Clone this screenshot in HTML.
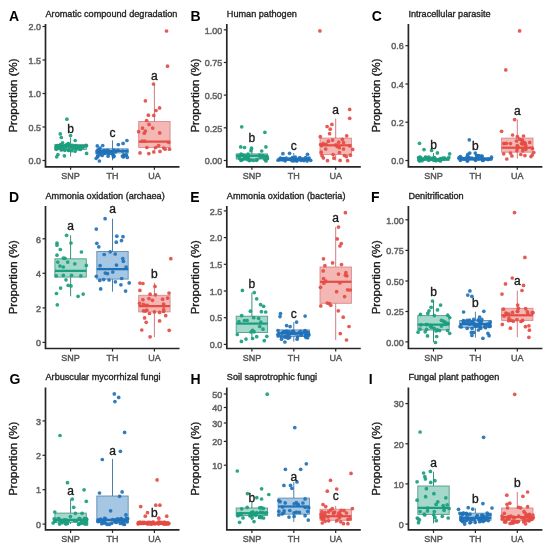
<!DOCTYPE html>
<html><head><meta charset="utf-8"><style>
html,body{margin:0;padding:0;background:#fff;}
svg{display:block;filter:blur(0.55px);}
text{font-family:"Liberation Sans", sans-serif;}
</style></head><body>
<svg width="550" height="548" viewBox="0 0 550 548">
<rect width="550" height="548" fill="#fff"/>
<g><text transform="translate(9.05,20.80) scale(1.0,1.06)" font-weight="bold" font-size="14" fill="#000">A</text>
<text x="45.50" y="17.20" font-size="9.15" fill="#262626" stroke="#262626" stroke-width="0.35">Aromatic compound degradation</text>
<text transform="translate(17.4,95.50) rotate(-90)" text-anchor="middle" font-size="11.5" fill="#1c1c1c" stroke="#1c1c1c" stroke-width="0.35">Proportion (%)</text>
<line x1="70.6" y1="137.4" x2="70.6" y2="144.4" stroke="#3c8f79" stroke-width="1.0"/>
<line x1="70.6" y1="149.5" x2="70.6" y2="156.5" stroke="#3c8f79" stroke-width="1.0"/>
<rect x="54.9" y="144.4" width="31.4" height="5.1" fill="#1b9e7e" fill-opacity="0.4" stroke="#3c8f79" stroke-width="0.9" stroke-opacity="0.85"/>
<line x1="54.9" y1="146.2" x2="86.3" y2="146.2" stroke="#1b9e7e" stroke-width="2.2"/>
<circle cx="66.9" cy="119.2" r="1.85" fill="#1b9e7e" fill-opacity="0.92"/>
<circle cx="70.5" cy="135.5" r="1.85" fill="#1b9e7e" fill-opacity="0.92"/>
<circle cx="60.3" cy="133.9" r="1.85" fill="#1b9e7e" fill-opacity="0.92"/>
<circle cx="61.3" cy="137.5" r="1.85" fill="#1b9e7e" fill-opacity="0.92"/>
<circle cx="75.2" cy="140.5" r="1.85" fill="#1b9e7e" fill-opacity="0.92"/>
<circle cx="57.9" cy="154.5" r="1.85" fill="#1b9e7e" fill-opacity="0.92"/>
<circle cx="64.4" cy="155.8" r="1.85" fill="#1b9e7e" fill-opacity="0.92"/>
<circle cx="86.6" cy="153.4" r="1.85" fill="#1b9e7e" fill-opacity="0.92"/>
<circle cx="56.7" cy="156.8" r="1.85" fill="#1b9e7e" fill-opacity="0.92"/>
<circle cx="65.4" cy="146.0" r="1.85" fill="#1b9e7e" fill-opacity="0.92"/>
<circle cx="75.8" cy="145.5" r="1.85" fill="#1b9e7e" fill-opacity="0.92"/>
<circle cx="72.1" cy="147.4" r="1.85" fill="#1b9e7e" fill-opacity="0.92"/>
<circle cx="56.9" cy="148.3" r="1.85" fill="#1b9e7e" fill-opacity="0.92"/>
<circle cx="56.2" cy="147.8" r="1.85" fill="#1b9e7e" fill-opacity="0.92"/>
<circle cx="57.2" cy="145.6" r="1.85" fill="#1b9e7e" fill-opacity="0.92"/>
<circle cx="68.6" cy="150.4" r="1.85" fill="#1b9e7e" fill-opacity="0.92"/>
<circle cx="59.0" cy="146.5" r="1.85" fill="#1b9e7e" fill-opacity="0.92"/>
<circle cx="75.1" cy="151.2" r="1.85" fill="#1b9e7e" fill-opacity="0.92"/>
<circle cx="73.5" cy="147.6" r="1.85" fill="#1b9e7e" fill-opacity="0.92"/>
<circle cx="86.2" cy="145.3" r="1.85" fill="#1b9e7e" fill-opacity="0.92"/>
<circle cx="82.5" cy="146.9" r="1.85" fill="#1b9e7e" fill-opacity="0.92"/>
<circle cx="59.6" cy="145.8" r="1.85" fill="#1b9e7e" fill-opacity="0.92"/>
<circle cx="64.9" cy="150.3" r="1.85" fill="#1b9e7e" fill-opacity="0.92"/>
<circle cx="60.8" cy="148.8" r="1.85" fill="#1b9e7e" fill-opacity="0.92"/>
<circle cx="75.4" cy="147.4" r="1.85" fill="#1b9e7e" fill-opacity="0.92"/>
<circle cx="72.5" cy="145.4" r="1.85" fill="#1b9e7e" fill-opacity="0.92"/>
<circle cx="56.9" cy="146.3" r="1.85" fill="#1b9e7e" fill-opacity="0.92"/>
<circle cx="76.8" cy="147.8" r="1.85" fill="#1b9e7e" fill-opacity="0.92"/>
<circle cx="65.1" cy="148.8" r="1.85" fill="#1b9e7e" fill-opacity="0.92"/>
<circle cx="69.5" cy="146.9" r="1.85" fill="#1b9e7e" fill-opacity="0.92"/>
<circle cx="80.4" cy="149.5" r="1.85" fill="#1b9e7e" fill-opacity="0.92"/>
<circle cx="62.8" cy="148.7" r="1.85" fill="#1b9e7e" fill-opacity="0.92"/>
<circle cx="71.8" cy="150.7" r="1.85" fill="#1b9e7e" fill-opacity="0.92"/>
<circle cx="78.3" cy="146.9" r="1.85" fill="#1b9e7e" fill-opacity="0.92"/>
<circle cx="86.4" cy="145.8" r="1.85" fill="#1b9e7e" fill-opacity="0.92"/>
<circle cx="68.4" cy="149.9" r="1.85" fill="#1b9e7e" fill-opacity="0.92"/>
<circle cx="59.9" cy="148.2" r="1.85" fill="#1b9e7e" fill-opacity="0.92"/>
<circle cx="56.3" cy="149.3" r="1.85" fill="#1b9e7e" fill-opacity="0.92"/>
<circle cx="79.5" cy="148.7" r="1.85" fill="#1b9e7e" fill-opacity="0.92"/>
<circle cx="83.0" cy="147.0" r="1.85" fill="#1b9e7e" fill-opacity="0.92"/>
<circle cx="77.2" cy="148.9" r="1.85" fill="#1b9e7e" fill-opacity="0.92"/>
<circle cx="60.6" cy="144.6" r="1.85" fill="#1b9e7e" fill-opacity="0.92"/>
<circle cx="62.7" cy="149.4" r="1.85" fill="#1b9e7e" fill-opacity="0.92"/>
<circle cx="59.8" cy="146.6" r="1.85" fill="#1b9e7e" fill-opacity="0.92"/>
<circle cx="56.5" cy="147.0" r="1.85" fill="#1b9e7e" fill-opacity="0.92"/>
<circle cx="61.2" cy="149.9" r="1.85" fill="#1b9e7e" fill-opacity="0.92"/>
<circle cx="62.6" cy="142.8" r="1.85" fill="#1b9e7e" fill-opacity="0.92"/>
<circle cx="71.4" cy="145.7" r="1.85" fill="#1b9e7e" fill-opacity="0.92"/>
<circle cx="66.3" cy="144.8" r="1.85" fill="#1b9e7e" fill-opacity="0.92"/>
<circle cx="68.4" cy="143.5" r="1.85" fill="#1b9e7e" fill-opacity="0.92"/>
<circle cx="66.8" cy="146.1" r="1.85" fill="#1b9e7e" fill-opacity="0.92"/>
<circle cx="67.8" cy="144.0" r="1.85" fill="#1b9e7e" fill-opacity="0.92"/>
<circle cx="71.5" cy="146.5" r="1.85" fill="#1b9e7e" fill-opacity="0.92"/>
<text x="70.62" y="132.55" text-anchor="middle" font-size="12" fill="#1a1a1a" stroke="#1a1a1a" stroke-width="0.35">b</text>
<line x1="112.5" y1="140.3" x2="112.5" y2="148.8" stroke="#4f80a8" stroke-width="1.0"/>
<line x1="112.5" y1="153.0" x2="112.5" y2="160.3" stroke="#4f80a8" stroke-width="1.0"/>
<rect x="96.8" y="148.8" width="31.4" height="4.2" fill="#1f72b8" fill-opacity="0.4" stroke="#4f80a8" stroke-width="0.9" stroke-opacity="0.85"/>
<line x1="96.8" y1="151.0" x2="128.2" y2="151.0" stroke="#1f72b8" stroke-width="2.2"/>
<circle cx="97.3" cy="145.9" r="1.85" fill="#1f72b8" fill-opacity="0.92"/>
<circle cx="102.7" cy="145.5" r="1.85" fill="#1f72b8" fill-opacity="0.92"/>
<circle cx="118.3" cy="144.6" r="1.85" fill="#1f72b8" fill-opacity="0.92"/>
<circle cx="123.1" cy="143.4" r="1.85" fill="#1f72b8" fill-opacity="0.92"/>
<circle cx="126.9" cy="140.5" r="1.85" fill="#1f72b8" fill-opacity="0.92"/>
<circle cx="96.2" cy="158.3" r="1.85" fill="#1f72b8" fill-opacity="0.92"/>
<circle cx="99.4" cy="161.0" r="1.85" fill="#1f72b8" fill-opacity="0.92"/>
<circle cx="127.3" cy="157.4" r="1.85" fill="#1f72b8" fill-opacity="0.92"/>
<circle cx="99.5" cy="153.1" r="1.85" fill="#1f72b8" fill-opacity="0.92"/>
<circle cx="114.0" cy="156.2" r="1.85" fill="#1f72b8" fill-opacity="0.92"/>
<circle cx="122.4" cy="156.0" r="1.85" fill="#1f72b8" fill-opacity="0.92"/>
<circle cx="105.6" cy="152.9" r="1.85" fill="#1f72b8" fill-opacity="0.92"/>
<circle cx="108.1" cy="156.2" r="1.85" fill="#1f72b8" fill-opacity="0.92"/>
<circle cx="126.7" cy="151.1" r="1.85" fill="#1f72b8" fill-opacity="0.92"/>
<circle cx="102.5" cy="151.6" r="1.85" fill="#1f72b8" fill-opacity="0.92"/>
<circle cx="104.2" cy="153.4" r="1.85" fill="#1f72b8" fill-opacity="0.92"/>
<circle cx="115.3" cy="151.8" r="1.85" fill="#1f72b8" fill-opacity="0.92"/>
<circle cx="97.1" cy="152.9" r="1.85" fill="#1f72b8" fill-opacity="0.92"/>
<circle cx="108.4" cy="154.0" r="1.85" fill="#1f72b8" fill-opacity="0.92"/>
<circle cx="126.5" cy="154.8" r="1.85" fill="#1f72b8" fill-opacity="0.92"/>
<circle cx="113.0" cy="154.3" r="1.85" fill="#1f72b8" fill-opacity="0.92"/>
<circle cx="118.0" cy="150.4" r="1.85" fill="#1f72b8" fill-opacity="0.92"/>
<circle cx="124.9" cy="155.5" r="1.85" fill="#1f72b8" fill-opacity="0.92"/>
<circle cx="124.1" cy="155.6" r="1.85" fill="#1f72b8" fill-opacity="0.92"/>
<circle cx="109.2" cy="152.8" r="1.85" fill="#1f72b8" fill-opacity="0.92"/>
<circle cx="100.2" cy="154.4" r="1.85" fill="#1f72b8" fill-opacity="0.92"/>
<circle cx="98.9" cy="150.5" r="1.85" fill="#1f72b8" fill-opacity="0.92"/>
<circle cx="103.5" cy="151.1" r="1.85" fill="#1f72b8" fill-opacity="0.92"/>
<circle cx="107.5" cy="150.4" r="1.85" fill="#1f72b8" fill-opacity="0.92"/>
<circle cx="97.0" cy="151.1" r="1.85" fill="#1f72b8" fill-opacity="0.92"/>
<circle cx="100.1" cy="152.5" r="1.85" fill="#1f72b8" fill-opacity="0.92"/>
<circle cx="97.8" cy="156.1" r="1.85" fill="#1f72b8" fill-opacity="0.92"/>
<circle cx="116.0" cy="151.0" r="1.85" fill="#1f72b8" fill-opacity="0.92"/>
<circle cx="104.8" cy="152.4" r="1.85" fill="#1f72b8" fill-opacity="0.92"/>
<circle cx="108.3" cy="150.9" r="1.85" fill="#1f72b8" fill-opacity="0.92"/>
<circle cx="123.3" cy="157.0" r="1.85" fill="#1f72b8" fill-opacity="0.92"/>
<circle cx="111.4" cy="153.4" r="1.85" fill="#1f72b8" fill-opacity="0.92"/>
<circle cx="99.7" cy="150.7" r="1.85" fill="#1f72b8" fill-opacity="0.92"/>
<circle cx="107.6" cy="151.9" r="1.85" fill="#1f72b8" fill-opacity="0.92"/>
<circle cx="122.7" cy="151.1" r="1.85" fill="#1f72b8" fill-opacity="0.92"/>
<circle cx="97.7" cy="156.7" r="1.85" fill="#1f72b8" fill-opacity="0.92"/>
<circle cx="113.4" cy="151.0" r="1.85" fill="#1f72b8" fill-opacity="0.92"/>
<circle cx="113.8" cy="150.2" r="1.85" fill="#1f72b8" fill-opacity="0.92"/>
<circle cx="113.4" cy="156.8" r="1.85" fill="#1f72b8" fill-opacity="0.92"/>
<circle cx="123.8" cy="154.9" r="1.85" fill="#1f72b8" fill-opacity="0.92"/>
<circle cx="105.1" cy="152.6" r="1.85" fill="#1f72b8" fill-opacity="0.92"/>
<circle cx="102.2" cy="155.4" r="1.85" fill="#1f72b8" fill-opacity="0.92"/>
<circle cx="113.5" cy="155.5" r="1.85" fill="#1f72b8" fill-opacity="0.92"/>
<circle cx="100.0" cy="148.1" r="1.85" fill="#1f72b8" fill-opacity="0.92"/>
<circle cx="104.3" cy="151.9" r="1.85" fill="#1f72b8" fill-opacity="0.92"/>
<circle cx="104.7" cy="151.0" r="1.85" fill="#1f72b8" fill-opacity="0.92"/>
<circle cx="104.4" cy="150.7" r="1.85" fill="#1f72b8" fill-opacity="0.92"/>
<circle cx="99.0" cy="149.6" r="1.85" fill="#1f72b8" fill-opacity="0.92"/>
<text x="112.50" y="136.55" text-anchor="middle" font-size="12" fill="#1a1a1a" stroke="#1a1a1a" stroke-width="0.35">c</text>
<line x1="154.4" y1="84.0" x2="154.4" y2="121.5" stroke="#d27a82" stroke-width="1.0"/>
<line x1="154.4" y1="147.5" x2="154.4" y2="150.0" stroke="#d27a82" stroke-width="1.0"/>
<rect x="138.7" y="121.5" width="31.4" height="26.0" fill="#e44c44" fill-opacity="0.4" stroke="#d27a82" stroke-width="0.9" stroke-opacity="0.85"/>
<line x1="138.7" y1="141.6" x2="170.1" y2="141.6" stroke="#e44c44" stroke-width="2.2"/>
<circle cx="166.5" cy="31.0" r="1.85" fill="#e44c44" fill-opacity="0.92"/>
<circle cx="167.5" cy="66.2" r="1.85" fill="#e44c44" fill-opacity="0.92"/>
<circle cx="153.5" cy="84.0" r="1.85" fill="#e44c44" fill-opacity="0.92"/>
<circle cx="145.4" cy="100.8" r="1.85" fill="#e44c44" fill-opacity="0.92"/>
<circle cx="159.6" cy="107.9" r="1.85" fill="#e44c44" fill-opacity="0.92"/>
<circle cx="156.0" cy="110.5" r="1.85" fill="#e44c44" fill-opacity="0.92"/>
<circle cx="148.4" cy="115.2" r="1.85" fill="#e44c44" fill-opacity="0.92"/>
<circle cx="153.8" cy="115.4" r="1.85" fill="#e44c44" fill-opacity="0.92"/>
<circle cx="146.6" cy="120.5" r="1.85" fill="#e44c44" fill-opacity="0.92"/>
<circle cx="149.1" cy="124.4" r="1.85" fill="#e44c44" fill-opacity="0.92"/>
<circle cx="142.5" cy="128.1" r="1.85" fill="#e44c44" fill-opacity="0.92"/>
<circle cx="152.7" cy="128.1" r="1.85" fill="#e44c44" fill-opacity="0.92"/>
<circle cx="138.6" cy="131.7" r="1.85" fill="#e44c44" fill-opacity="0.92"/>
<circle cx="145.4" cy="131.0" r="1.85" fill="#e44c44" fill-opacity="0.92"/>
<circle cx="144.3" cy="133.2" r="1.85" fill="#e44c44" fill-opacity="0.92"/>
<circle cx="159.7" cy="132.9" r="1.85" fill="#e44c44" fill-opacity="0.92"/>
<circle cx="142.2" cy="141.2" r="1.85" fill="#e44c44" fill-opacity="0.92"/>
<circle cx="144.7" cy="141.2" r="1.85" fill="#e44c44" fill-opacity="0.92"/>
<circle cx="168.8" cy="142.4" r="1.85" fill="#e44c44" fill-opacity="0.92"/>
<circle cx="146.9" cy="147.5" r="1.85" fill="#e44c44" fill-opacity="0.92"/>
<circle cx="155.7" cy="147.5" r="1.85" fill="#e44c44" fill-opacity="0.92"/>
<circle cx="158.6" cy="145.6" r="1.85" fill="#e44c44" fill-opacity="0.92"/>
<circle cx="163.7" cy="148.1" r="1.85" fill="#e44c44" fill-opacity="0.92"/>
<circle cx="165.1" cy="149.2" r="1.85" fill="#e44c44" fill-opacity="0.92"/>
<circle cx="169.5" cy="149.2" r="1.85" fill="#e44c44" fill-opacity="0.92"/>
<circle cx="140.0" cy="152.9" r="1.85" fill="#e44c44" fill-opacity="0.92"/>
<circle cx="148.8" cy="153.6" r="1.85" fill="#e44c44" fill-opacity="0.92"/>
<circle cx="153.8" cy="151.9" r="1.85" fill="#e44c44" fill-opacity="0.92"/>
<circle cx="160.0" cy="151.4" r="1.85" fill="#e44c44" fill-opacity="0.92"/>
<text x="154.38" y="79.75" text-anchor="middle" font-size="12" fill="#1a1a1a" stroke="#1a1a1a" stroke-width="0.35">a</text>
<path d="M45.5,24.0 V166.8 H179.5" fill="none" stroke="#262626" stroke-width="1.7"/>
<line x1="42.5" y1="160.5" x2="45.5" y2="160.5" stroke="#262626" stroke-width="1.2"/>
<text transform="translate(40.90,164.20) scale(1.0,1.1)" text-anchor="end" font-size="9" fill="#666666" stroke="#666666" stroke-width="0.5">0.0</text>
<line x1="42.5" y1="127.0" x2="45.5" y2="127.0" stroke="#262626" stroke-width="1.2"/>
<text transform="translate(40.90,130.70) scale(1.0,1.1)" text-anchor="end" font-size="9" fill="#666666" stroke="#666666" stroke-width="0.5">0.5</text>
<line x1="42.5" y1="93.5" x2="45.5" y2="93.5" stroke="#262626" stroke-width="1.2"/>
<text transform="translate(40.90,97.20) scale(1.0,1.1)" text-anchor="end" font-size="9" fill="#666666" stroke="#666666" stroke-width="0.5">1.0</text>
<line x1="42.5" y1="60.0" x2="45.5" y2="60.0" stroke="#262626" stroke-width="1.2"/>
<text transform="translate(40.90,63.70) scale(1.0,1.1)" text-anchor="end" font-size="9" fill="#666666" stroke="#666666" stroke-width="0.5">1.5</text>
<line x1="42.5" y1="26.5" x2="45.5" y2="26.5" stroke="#262626" stroke-width="1.2"/>
<text transform="translate(40.90,30.20) scale(1.0,1.1)" text-anchor="end" font-size="9" fill="#666666" stroke="#666666" stroke-width="0.5">2.0</text>
<line x1="70.6" y1="166.8" x2="70.6" y2="169.8" stroke="#262626" stroke-width="1.2"/>
<text transform="translate(70.62,178.90) scale(1.0,1.1)" text-anchor="middle" font-size="9" fill="#5a5a5a" stroke="#5a5a5a" stroke-width="0.45">SNP</text>
<line x1="112.5" y1="166.8" x2="112.5" y2="169.8" stroke="#262626" stroke-width="1.2"/>
<text transform="translate(112.50,178.90) scale(1.0,1.1)" text-anchor="middle" font-size="9" fill="#5a5a5a" stroke="#5a5a5a" stroke-width="0.45">TH</text>
<line x1="154.4" y1="166.8" x2="154.4" y2="169.8" stroke="#262626" stroke-width="1.2"/>
<text transform="translate(154.38,178.90) scale(1.0,1.1)" text-anchor="middle" font-size="9" fill="#5a5a5a" stroke="#5a5a5a" stroke-width="0.45">UA</text></g>
<g><text transform="translate(190.56,20.80) scale(1.0,1.06)" font-weight="bold" font-size="14" fill="#000">B</text>
<text x="226.80" y="17.20" font-size="9.15" fill="#262626" stroke="#262626" stroke-width="0.35">Human pathogen</text>
<text transform="translate(199.3,95.50) rotate(-90)" text-anchor="middle" font-size="11.5" fill="#1c1c1c" stroke="#1c1c1c" stroke-width="0.35">Proportion (%)</text>
<line x1="251.9" y1="148.2" x2="251.9" y2="153.9" stroke="#3c8f79" stroke-width="1.0"/>
<line x1="251.9" y1="159.0" x2="251.9" y2="160.5" stroke="#3c8f79" stroke-width="1.0"/>
<rect x="236.2" y="153.9" width="31.4" height="5.1" fill="#1b9e7e" fill-opacity="0.4" stroke="#3c8f79" stroke-width="0.9" stroke-opacity="0.85"/>
<line x1="236.2" y1="155.8" x2="267.6" y2="155.8" stroke="#1b9e7e" stroke-width="2.2"/>
<circle cx="241.7" cy="126.8" r="1.85" fill="#1b9e7e" fill-opacity="0.92"/>
<circle cx="264.9" cy="132.3" r="1.85" fill="#1b9e7e" fill-opacity="0.92"/>
<circle cx="240.7" cy="146.9" r="1.85" fill="#1b9e7e" fill-opacity="0.92"/>
<circle cx="244.5" cy="147.5" r="1.85" fill="#1b9e7e" fill-opacity="0.92"/>
<circle cx="265.9" cy="146.9" r="1.85" fill="#1b9e7e" fill-opacity="0.92"/>
<circle cx="251.5" cy="148.2" r="1.85" fill="#1b9e7e" fill-opacity="0.92"/>
<circle cx="250.9" cy="150.7" r="1.85" fill="#1b9e7e" fill-opacity="0.92"/>
<circle cx="261.7" cy="151.0" r="1.85" fill="#1b9e7e" fill-opacity="0.92"/>
<circle cx="248.0" cy="154.2" r="1.85" fill="#1b9e7e" fill-opacity="0.92"/>
<circle cx="237.9" cy="156.0" r="1.85" fill="#1b9e7e" fill-opacity="0.92"/>
<circle cx="245.0" cy="158.8" r="1.85" fill="#1b9e7e" fill-opacity="0.92"/>
<circle cx="266.7" cy="157.1" r="1.85" fill="#1b9e7e" fill-opacity="0.92"/>
<circle cx="266.0" cy="160.9" r="1.85" fill="#1b9e7e" fill-opacity="0.92"/>
<circle cx="266.6" cy="156.6" r="1.85" fill="#1b9e7e" fill-opacity="0.92"/>
<circle cx="243.8" cy="155.6" r="1.85" fill="#1b9e7e" fill-opacity="0.92"/>
<circle cx="243.1" cy="155.4" r="1.85" fill="#1b9e7e" fill-opacity="0.92"/>
<circle cx="256.3" cy="160.3" r="1.85" fill="#1b9e7e" fill-opacity="0.92"/>
<circle cx="263.1" cy="157.4" r="1.85" fill="#1b9e7e" fill-opacity="0.92"/>
<circle cx="257.2" cy="159.6" r="1.85" fill="#1b9e7e" fill-opacity="0.92"/>
<circle cx="239.6" cy="158.6" r="1.85" fill="#1b9e7e" fill-opacity="0.92"/>
<circle cx="265.2" cy="159.5" r="1.85" fill="#1b9e7e" fill-opacity="0.92"/>
<circle cx="260.3" cy="157.3" r="1.85" fill="#1b9e7e" fill-opacity="0.92"/>
<circle cx="242.5" cy="159.5" r="1.85" fill="#1b9e7e" fill-opacity="0.92"/>
<circle cx="247.3" cy="159.6" r="1.85" fill="#1b9e7e" fill-opacity="0.92"/>
<circle cx="267.1" cy="156.8" r="1.85" fill="#1b9e7e" fill-opacity="0.92"/>
<circle cx="249.4" cy="160.6" r="1.85" fill="#1b9e7e" fill-opacity="0.92"/>
<circle cx="259.5" cy="155.2" r="1.85" fill="#1b9e7e" fill-opacity="0.92"/>
<circle cx="240.9" cy="155.1" r="1.85" fill="#1b9e7e" fill-opacity="0.92"/>
<circle cx="265.1" cy="159.6" r="1.85" fill="#1b9e7e" fill-opacity="0.92"/>
<circle cx="241.5" cy="159.8" r="1.85" fill="#1b9e7e" fill-opacity="0.92"/>
<circle cx="267.4" cy="158.6" r="1.85" fill="#1b9e7e" fill-opacity="0.92"/>
<circle cx="247.9" cy="157.8" r="1.85" fill="#1b9e7e" fill-opacity="0.92"/>
<circle cx="241.1" cy="154.1" r="1.85" fill="#1b9e7e" fill-opacity="0.92"/>
<circle cx="267.1" cy="158.5" r="1.85" fill="#1b9e7e" fill-opacity="0.92"/>
<circle cx="253.3" cy="160.5" r="1.85" fill="#1b9e7e" fill-opacity="0.92"/>
<circle cx="250.4" cy="160.1" r="1.85" fill="#1b9e7e" fill-opacity="0.92"/>
<circle cx="262.6" cy="155.5" r="1.85" fill="#1b9e7e" fill-opacity="0.92"/>
<circle cx="244.8" cy="156.1" r="1.85" fill="#1b9e7e" fill-opacity="0.92"/>
<circle cx="244.5" cy="158.1" r="1.85" fill="#1b9e7e" fill-opacity="0.92"/>
<circle cx="245.0" cy="156.9" r="1.85" fill="#1b9e7e" fill-opacity="0.92"/>
<circle cx="241.1" cy="160.4" r="1.85" fill="#1b9e7e" fill-opacity="0.92"/>
<circle cx="248.0" cy="157.2" r="1.85" fill="#1b9e7e" fill-opacity="0.92"/>
<text x="251.93" y="141.65" text-anchor="middle" font-size="12" fill="#1a1a1a" stroke="#1a1a1a" stroke-width="0.35">b</text>
<line x1="293.8" y1="153.0" x2="293.8" y2="158.2" stroke="#4f80a8" stroke-width="1.0"/>
<line x1="293.8" y1="160.5" x2="293.8" y2="160.5" stroke="#4f80a8" stroke-width="1.0"/>
<rect x="278.1" y="158.2" width="31.4" height="2.3" fill="#1f72b8" fill-opacity="0.4" stroke="#4f80a8" stroke-width="0.9" stroke-opacity="0.85"/>
<line x1="278.1" y1="159.5" x2="309.5" y2="159.5" stroke="#1f72b8" stroke-width="2.2"/>
<circle cx="282.9" cy="153.7" r="1.85" fill="#1f72b8" fill-opacity="0.92"/>
<circle cx="289.6" cy="153.3" r="1.85" fill="#1f72b8" fill-opacity="0.92"/>
<circle cx="307.5" cy="154.3" r="1.85" fill="#1f72b8" fill-opacity="0.92"/>
<circle cx="297.3" cy="160.6" r="1.85" fill="#1f72b8" fill-opacity="0.92"/>
<circle cx="291.9" cy="160.7" r="1.85" fill="#1f72b8" fill-opacity="0.92"/>
<circle cx="294.6" cy="159.1" r="1.85" fill="#1f72b8" fill-opacity="0.92"/>
<circle cx="295.3" cy="157.1" r="1.85" fill="#1f72b8" fill-opacity="0.92"/>
<circle cx="292.5" cy="157.7" r="1.85" fill="#1f72b8" fill-opacity="0.92"/>
<circle cx="278.1" cy="160.2" r="1.85" fill="#1f72b8" fill-opacity="0.92"/>
<circle cx="283.7" cy="158.9" r="1.85" fill="#1f72b8" fill-opacity="0.92"/>
<circle cx="301.9" cy="159.2" r="1.85" fill="#1f72b8" fill-opacity="0.92"/>
<circle cx="288.8" cy="159.1" r="1.85" fill="#1f72b8" fill-opacity="0.92"/>
<circle cx="296.3" cy="160.1" r="1.85" fill="#1f72b8" fill-opacity="0.92"/>
<circle cx="281.5" cy="159.2" r="1.85" fill="#1f72b8" fill-opacity="0.92"/>
<circle cx="286.2" cy="158.1" r="1.85" fill="#1f72b8" fill-opacity="0.92"/>
<circle cx="303.5" cy="159.0" r="1.85" fill="#1f72b8" fill-opacity="0.92"/>
<circle cx="296.5" cy="160.0" r="1.85" fill="#1f72b8" fill-opacity="0.92"/>
<circle cx="308.1" cy="158.8" r="1.85" fill="#1f72b8" fill-opacity="0.92"/>
<circle cx="298.2" cy="159.0" r="1.85" fill="#1f72b8" fill-opacity="0.92"/>
<circle cx="294.9" cy="159.8" r="1.85" fill="#1f72b8" fill-opacity="0.92"/>
<circle cx="292.9" cy="159.1" r="1.85" fill="#1f72b8" fill-opacity="0.92"/>
<circle cx="293.8" cy="160.8" r="1.85" fill="#1f72b8" fill-opacity="0.92"/>
<circle cx="301.1" cy="160.5" r="1.85" fill="#1f72b8" fill-opacity="0.92"/>
<circle cx="309.1" cy="158.0" r="1.85" fill="#1f72b8" fill-opacity="0.92"/>
<circle cx="296.5" cy="160.8" r="1.85" fill="#1f72b8" fill-opacity="0.92"/>
<circle cx="305.7" cy="157.5" r="1.85" fill="#1f72b8" fill-opacity="0.92"/>
<circle cx="282.0" cy="158.8" r="1.85" fill="#1f72b8" fill-opacity="0.92"/>
<circle cx="280.4" cy="158.0" r="1.85" fill="#1f72b8" fill-opacity="0.92"/>
<circle cx="280.4" cy="159.7" r="1.85" fill="#1f72b8" fill-opacity="0.92"/>
<circle cx="303.9" cy="160.6" r="1.85" fill="#1f72b8" fill-opacity="0.92"/>
<circle cx="283.1" cy="159.9" r="1.85" fill="#1f72b8" fill-opacity="0.92"/>
<circle cx="299.8" cy="157.6" r="1.85" fill="#1f72b8" fill-opacity="0.92"/>
<circle cx="307.1" cy="160.9" r="1.85" fill="#1f72b8" fill-opacity="0.92"/>
<circle cx="285.2" cy="160.8" r="1.85" fill="#1f72b8" fill-opacity="0.92"/>
<circle cx="291.1" cy="158.9" r="1.85" fill="#1f72b8" fill-opacity="0.92"/>
<circle cx="310.7" cy="160.3" r="1.85" fill="#1f72b8" fill-opacity="0.92"/>
<circle cx="283.3" cy="158.7" r="1.85" fill="#1f72b8" fill-opacity="0.92"/>
<text x="293.80" y="149.95" text-anchor="middle" font-size="12" fill="#1a1a1a" stroke="#1a1a1a" stroke-width="0.35">c</text>
<line x1="335.7" y1="118.5" x2="335.7" y2="138.1" stroke="#d27a82" stroke-width="1.0"/>
<line x1="335.7" y1="154.5" x2="335.7" y2="160.5" stroke="#d27a82" stroke-width="1.0"/>
<rect x="320.0" y="138.1" width="31.4" height="16.4" fill="#e44c44" fill-opacity="0.4" stroke="#d27a82" stroke-width="0.9" stroke-opacity="0.85"/>
<line x1="320.0" y1="145.3" x2="351.4" y2="145.3" stroke="#e44c44" stroke-width="2.2"/>
<circle cx="319.9" cy="30.9" r="1.85" fill="#e44c44" fill-opacity="0.92"/>
<circle cx="349.7" cy="109.4" r="1.85" fill="#e44c44" fill-opacity="0.92"/>
<circle cx="349.7" cy="118.3" r="1.85" fill="#e44c44" fill-opacity="0.92"/>
<circle cx="327.1" cy="126.5" r="1.85" fill="#e44c44" fill-opacity="0.92"/>
<circle cx="331.9" cy="124.4" r="1.85" fill="#e44c44" fill-opacity="0.92"/>
<circle cx="330.2" cy="129.2" r="1.85" fill="#e44c44" fill-opacity="0.92"/>
<circle cx="329.6" cy="133.7" r="1.85" fill="#e44c44" fill-opacity="0.92"/>
<circle cx="320.3" cy="136.7" r="1.85" fill="#e44c44" fill-opacity="0.92"/>
<circle cx="346.7" cy="135.8" r="1.85" fill="#e44c44" fill-opacity="0.92"/>
<circle cx="332.6" cy="140.1" r="1.85" fill="#e44c44" fill-opacity="0.92"/>
<circle cx="338.7" cy="142.2" r="1.85" fill="#e44c44" fill-opacity="0.92"/>
<circle cx="343.5" cy="142.6" r="1.85" fill="#e44c44" fill-opacity="0.92"/>
<circle cx="321.6" cy="145.6" r="1.85" fill="#e44c44" fill-opacity="0.92"/>
<circle cx="349.7" cy="145.9" r="1.85" fill="#e44c44" fill-opacity="0.92"/>
<circle cx="325.7" cy="149.0" r="1.85" fill="#e44c44" fill-opacity="0.92"/>
<circle cx="352.7" cy="149.4" r="1.85" fill="#e44c44" fill-opacity="0.92"/>
<circle cx="339.4" cy="152.5" r="1.85" fill="#e44c44" fill-opacity="0.92"/>
<circle cx="346.3" cy="156.6" r="1.85" fill="#e44c44" fill-opacity="0.92"/>
<circle cx="350.4" cy="155.2" r="1.85" fill="#e44c44" fill-opacity="0.92"/>
<circle cx="323.4" cy="157.9" r="1.85" fill="#e44c44" fill-opacity="0.92"/>
<circle cx="327.5" cy="160.7" r="1.85" fill="#e44c44" fill-opacity="0.92"/>
<circle cx="333.9" cy="158.2" r="1.85" fill="#e44c44" fill-opacity="0.92"/>
<circle cx="340.1" cy="160.4" r="1.85" fill="#e44c44" fill-opacity="0.92"/>
<circle cx="347.6" cy="160.7" r="1.85" fill="#e44c44" fill-opacity="0.92"/>
<circle cx="343.5" cy="149.0" r="1.85" fill="#e44c44" fill-opacity="0.92"/>
<circle cx="336.0" cy="144.8" r="1.85" fill="#e44c44" fill-opacity="0.92"/>
<circle cx="326.1" cy="144.4" r="1.85" fill="#e44c44" fill-opacity="0.92"/>
<circle cx="342.4" cy="139.3" r="1.85" fill="#e44c44" fill-opacity="0.92"/>
<circle cx="337.2" cy="146.5" r="1.85" fill="#e44c44" fill-opacity="0.92"/>
<circle cx="320.6" cy="144.6" r="1.85" fill="#e44c44" fill-opacity="0.92"/>
<circle cx="339.3" cy="147.7" r="1.85" fill="#e44c44" fill-opacity="0.92"/>
<circle cx="322.0" cy="155.7" r="1.85" fill="#e44c44" fill-opacity="0.92"/>
<circle cx="344.4" cy="155.5" r="1.85" fill="#e44c44" fill-opacity="0.92"/>
<circle cx="323.2" cy="143.5" r="1.85" fill="#e44c44" fill-opacity="0.92"/>
<circle cx="321.2" cy="152.2" r="1.85" fill="#e44c44" fill-opacity="0.92"/>
<circle cx="328.4" cy="141.2" r="1.85" fill="#e44c44" fill-opacity="0.92"/>
<circle cx="333.1" cy="154.5" r="1.85" fill="#e44c44" fill-opacity="0.92"/>
<text x="335.68" y="114.05" text-anchor="middle" font-size="12" fill="#1a1a1a" stroke="#1a1a1a" stroke-width="0.35">a</text>
<path d="M226.8,24.0 V166.8 H360.8" fill="none" stroke="#262626" stroke-width="1.7"/>
<line x1="223.8" y1="160.5" x2="226.8" y2="160.5" stroke="#262626" stroke-width="1.2"/>
<text transform="translate(222.20,164.20) scale(1.0,1.1)" text-anchor="end" font-size="9" fill="#666666" stroke="#666666" stroke-width="0.5">0.00</text>
<line x1="223.8" y1="127.8" x2="226.8" y2="127.8" stroke="#262626" stroke-width="1.2"/>
<text transform="translate(222.20,131.50) scale(1.0,1.1)" text-anchor="end" font-size="9" fill="#666666" stroke="#666666" stroke-width="0.5">0.25</text>
<line x1="223.8" y1="95.1" x2="226.8" y2="95.1" stroke="#262626" stroke-width="1.2"/>
<text transform="translate(222.20,98.80) scale(1.0,1.1)" text-anchor="end" font-size="9" fill="#666666" stroke="#666666" stroke-width="0.5">0.50</text>
<line x1="223.8" y1="62.5" x2="226.8" y2="62.5" stroke="#262626" stroke-width="1.2"/>
<text transform="translate(222.20,66.20) scale(1.0,1.1)" text-anchor="end" font-size="9" fill="#666666" stroke="#666666" stroke-width="0.5">0.75</text>
<line x1="223.8" y1="29.8" x2="226.8" y2="29.8" stroke="#262626" stroke-width="1.2"/>
<text transform="translate(222.20,33.50) scale(1.0,1.1)" text-anchor="end" font-size="9" fill="#666666" stroke="#666666" stroke-width="0.5">1.00</text>
<line x1="251.9" y1="166.8" x2="251.9" y2="169.8" stroke="#262626" stroke-width="1.2"/>
<text transform="translate(251.93,178.90) scale(1.0,1.1)" text-anchor="middle" font-size="9" fill="#5a5a5a" stroke="#5a5a5a" stroke-width="0.45">SNP</text>
<line x1="293.8" y1="166.8" x2="293.8" y2="169.8" stroke="#262626" stroke-width="1.2"/>
<text transform="translate(293.80,178.90) scale(1.0,1.1)" text-anchor="middle" font-size="9" fill="#5a5a5a" stroke="#5a5a5a" stroke-width="0.45">TH</text>
<line x1="335.7" y1="166.8" x2="335.7" y2="169.8" stroke="#262626" stroke-width="1.2"/>
<text transform="translate(335.68,178.90) scale(1.0,1.1)" text-anchor="middle" font-size="9" fill="#5a5a5a" stroke="#5a5a5a" stroke-width="0.45">UA</text></g>
<g><text transform="translate(371.75,20.80) scale(1.0,1.06)" font-weight="bold" font-size="14" fill="#000">C</text>
<text x="408.40" y="17.20" font-size="9.15" fill="#262626" stroke="#262626" stroke-width="0.35">Intracellular parasite</text>
<text transform="translate(380.2,95.50) rotate(-90)" text-anchor="middle" font-size="11.5" fill="#1c1c1c" stroke="#1c1c1c" stroke-width="0.35">Proportion (%)</text>
<line x1="433.5" y1="153.0" x2="433.5" y2="158.3" stroke="#3c8f79" stroke-width="1.0"/>
<line x1="433.5" y1="160.3" x2="433.5" y2="160.5" stroke="#3c8f79" stroke-width="1.0"/>
<rect x="417.8" y="158.3" width="31.4" height="2.0" fill="#1b9e7e" fill-opacity="0.4" stroke="#3c8f79" stroke-width="0.9" stroke-opacity="0.85"/>
<line x1="417.8" y1="159.3" x2="449.2" y2="159.3" stroke="#1b9e7e" stroke-width="2.2"/>
<circle cx="419.5" cy="143.3" r="1.85" fill="#1b9e7e" fill-opacity="0.92"/>
<circle cx="424.0" cy="149.6" r="1.85" fill="#1b9e7e" fill-opacity="0.92"/>
<circle cx="431.6" cy="150.4" r="1.85" fill="#1b9e7e" fill-opacity="0.92"/>
<circle cx="437.4" cy="152.9" r="1.85" fill="#1b9e7e" fill-opacity="0.92"/>
<circle cx="449.7" cy="153.8" r="1.85" fill="#1b9e7e" fill-opacity="0.92"/>
<circle cx="444.8" cy="158.0" r="1.85" fill="#1b9e7e" fill-opacity="0.92"/>
<circle cx="422.1" cy="160.7" r="1.85" fill="#1b9e7e" fill-opacity="0.92"/>
<circle cx="436.4" cy="159.8" r="1.85" fill="#1b9e7e" fill-opacity="0.92"/>
<circle cx="420.0" cy="157.2" r="1.85" fill="#1b9e7e" fill-opacity="0.92"/>
<circle cx="440.4" cy="158.7" r="1.85" fill="#1b9e7e" fill-opacity="0.92"/>
<circle cx="419.5" cy="160.8" r="1.85" fill="#1b9e7e" fill-opacity="0.92"/>
<circle cx="438.6" cy="160.2" r="1.85" fill="#1b9e7e" fill-opacity="0.92"/>
<circle cx="419.8" cy="160.4" r="1.85" fill="#1b9e7e" fill-opacity="0.92"/>
<circle cx="419.3" cy="160.5" r="1.85" fill="#1b9e7e" fill-opacity="0.92"/>
<circle cx="432.4" cy="158.4" r="1.85" fill="#1b9e7e" fill-opacity="0.92"/>
<circle cx="435.8" cy="160.7" r="1.85" fill="#1b9e7e" fill-opacity="0.92"/>
<circle cx="426.1" cy="157.5" r="1.85" fill="#1b9e7e" fill-opacity="0.92"/>
<circle cx="434.9" cy="158.0" r="1.85" fill="#1b9e7e" fill-opacity="0.92"/>
<circle cx="420.7" cy="157.6" r="1.85" fill="#1b9e7e" fill-opacity="0.92"/>
<circle cx="418.7" cy="157.8" r="1.85" fill="#1b9e7e" fill-opacity="0.92"/>
<circle cx="427.6" cy="158.2" r="1.85" fill="#1b9e7e" fill-opacity="0.92"/>
<circle cx="442.8" cy="158.2" r="1.85" fill="#1b9e7e" fill-opacity="0.92"/>
<circle cx="434.0" cy="157.7" r="1.85" fill="#1b9e7e" fill-opacity="0.92"/>
<circle cx="428.8" cy="157.1" r="1.85" fill="#1b9e7e" fill-opacity="0.92"/>
<circle cx="425.5" cy="157.1" r="1.85" fill="#1b9e7e" fill-opacity="0.92"/>
<circle cx="441.9" cy="159.2" r="1.85" fill="#1b9e7e" fill-opacity="0.92"/>
<circle cx="423.4" cy="158.9" r="1.85" fill="#1b9e7e" fill-opacity="0.92"/>
<circle cx="448.8" cy="157.4" r="1.85" fill="#1b9e7e" fill-opacity="0.92"/>
<circle cx="444.8" cy="158.7" r="1.85" fill="#1b9e7e" fill-opacity="0.92"/>
<circle cx="433.8" cy="160.3" r="1.85" fill="#1b9e7e" fill-opacity="0.92"/>
<circle cx="430.4" cy="159.0" r="1.85" fill="#1b9e7e" fill-opacity="0.92"/>
<circle cx="440.4" cy="160.9" r="1.85" fill="#1b9e7e" fill-opacity="0.92"/>
<circle cx="428.7" cy="160.3" r="1.85" fill="#1b9e7e" fill-opacity="0.92"/>
<circle cx="441.0" cy="159.5" r="1.85" fill="#1b9e7e" fill-opacity="0.92"/>
<circle cx="430.8" cy="158.4" r="1.85" fill="#1b9e7e" fill-opacity="0.92"/>
<circle cx="418.8" cy="157.5" r="1.85" fill="#1b9e7e" fill-opacity="0.92"/>
<circle cx="419.4" cy="160.0" r="1.85" fill="#1b9e7e" fill-opacity="0.92"/>
<circle cx="425.7" cy="157.7" r="1.85" fill="#1b9e7e" fill-opacity="0.92"/>
<circle cx="419.9" cy="160.4" r="1.85" fill="#1b9e7e" fill-opacity="0.92"/>
<text x="433.52" y="149.25" text-anchor="middle" font-size="12" fill="#1a1a1a" stroke="#1a1a1a" stroke-width="0.35">b</text>
<line x1="475.4" y1="153.0" x2="475.4" y2="157.5" stroke="#4f80a8" stroke-width="1.0"/>
<line x1="475.4" y1="160.3" x2="475.4" y2="160.5" stroke="#4f80a8" stroke-width="1.0"/>
<rect x="459.7" y="157.5" width="31.4" height="2.8" fill="#1f72b8" fill-opacity="0.4" stroke="#4f80a8" stroke-width="0.9" stroke-opacity="0.85"/>
<line x1="459.7" y1="159.0" x2="491.1" y2="159.0" stroke="#1f72b8" stroke-width="2.2"/>
<circle cx="469.3" cy="139.8" r="1.85" fill="#1f72b8" fill-opacity="0.92"/>
<circle cx="487.7" cy="159.5" r="1.85" fill="#1f72b8" fill-opacity="0.92"/>
<circle cx="468.3" cy="157.6" r="1.85" fill="#1f72b8" fill-opacity="0.92"/>
<circle cx="468.7" cy="158.6" r="1.85" fill="#1f72b8" fill-opacity="0.92"/>
<circle cx="464.2" cy="158.5" r="1.85" fill="#1f72b8" fill-opacity="0.92"/>
<circle cx="467.7" cy="160.8" r="1.85" fill="#1f72b8" fill-opacity="0.92"/>
<circle cx="491.1" cy="159.0" r="1.85" fill="#1f72b8" fill-opacity="0.92"/>
<circle cx="467.1" cy="160.8" r="1.85" fill="#1f72b8" fill-opacity="0.92"/>
<circle cx="469.2" cy="158.1" r="1.85" fill="#1f72b8" fill-opacity="0.92"/>
<circle cx="459.0" cy="158.2" r="1.85" fill="#1f72b8" fill-opacity="0.92"/>
<circle cx="474.7" cy="158.8" r="1.85" fill="#1f72b8" fill-opacity="0.92"/>
<circle cx="465.6" cy="158.8" r="1.85" fill="#1f72b8" fill-opacity="0.92"/>
<circle cx="459.2" cy="157.7" r="1.85" fill="#1f72b8" fill-opacity="0.92"/>
<circle cx="462.0" cy="158.3" r="1.85" fill="#1f72b8" fill-opacity="0.92"/>
<circle cx="460.4" cy="156.6" r="1.85" fill="#1f72b8" fill-opacity="0.92"/>
<circle cx="469.0" cy="157.5" r="1.85" fill="#1f72b8" fill-opacity="0.92"/>
<circle cx="478.3" cy="158.9" r="1.85" fill="#1f72b8" fill-opacity="0.92"/>
<circle cx="483.8" cy="159.5" r="1.85" fill="#1f72b8" fill-opacity="0.92"/>
<circle cx="482.6" cy="160.5" r="1.85" fill="#1f72b8" fill-opacity="0.92"/>
<circle cx="471.9" cy="158.0" r="1.85" fill="#1f72b8" fill-opacity="0.92"/>
<circle cx="491.5" cy="157.2" r="1.85" fill="#1f72b8" fill-opacity="0.92"/>
<circle cx="482.9" cy="159.4" r="1.85" fill="#1f72b8" fill-opacity="0.92"/>
<circle cx="460.4" cy="160.3" r="1.85" fill="#1f72b8" fill-opacity="0.92"/>
<circle cx="488.4" cy="159.3" r="1.85" fill="#1f72b8" fill-opacity="0.92"/>
<circle cx="483.2" cy="160.2" r="1.85" fill="#1f72b8" fill-opacity="0.92"/>
<circle cx="463.6" cy="158.9" r="1.85" fill="#1f72b8" fill-opacity="0.92"/>
<circle cx="475.6" cy="160.3" r="1.85" fill="#1f72b8" fill-opacity="0.92"/>
<circle cx="481.9" cy="156.3" r="1.85" fill="#1f72b8" fill-opacity="0.92"/>
<circle cx="477.3" cy="156.6" r="1.85" fill="#1f72b8" fill-opacity="0.92"/>
<circle cx="479.3" cy="155.8" r="1.85" fill="#1f72b8" fill-opacity="0.92"/>
<circle cx="469.8" cy="153.1" r="1.85" fill="#1f72b8" fill-opacity="0.92"/>
<circle cx="467.8" cy="154.4" r="1.85" fill="#1f72b8" fill-opacity="0.92"/>
<circle cx="467.2" cy="156.3" r="1.85" fill="#1f72b8" fill-opacity="0.92"/>
<circle cx="476.7" cy="155.5" r="1.85" fill="#1f72b8" fill-opacity="0.92"/>
<circle cx="478.2" cy="155.7" r="1.85" fill="#1f72b8" fill-opacity="0.92"/>
<circle cx="475.3" cy="153.0" r="1.85" fill="#1f72b8" fill-opacity="0.92"/>
<circle cx="481.8" cy="156.0" r="1.85" fill="#1f72b8" fill-opacity="0.92"/>
<text x="475.40" y="150.15" text-anchor="middle" font-size="12" fill="#1a1a1a" stroke="#1a1a1a" stroke-width="0.35">b</text>
<line x1="517.3" y1="119.6" x2="517.3" y2="138.1" stroke="#d27a82" stroke-width="1.0"/>
<line x1="517.3" y1="152.2" x2="517.3" y2="158.6" stroke="#d27a82" stroke-width="1.0"/>
<rect x="501.6" y="138.1" width="31.4" height="14.1" fill="#e44c44" fill-opacity="0.4" stroke="#d27a82" stroke-width="0.9" stroke-opacity="0.85"/>
<line x1="501.6" y1="147.7" x2="533.0" y2="147.7" stroke="#e44c44" stroke-width="2.2"/>
<circle cx="519.6" cy="30.9" r="1.85" fill="#e44c44" fill-opacity="0.92"/>
<circle cx="505.8" cy="69.9" r="1.85" fill="#e44c44" fill-opacity="0.92"/>
<circle cx="514.6" cy="119.6" r="1.85" fill="#e44c44" fill-opacity="0.92"/>
<circle cx="501.6" cy="131.3" r="1.85" fill="#e44c44" fill-opacity="0.92"/>
<circle cx="512.6" cy="135.0" r="1.85" fill="#e44c44" fill-opacity="0.92"/>
<circle cx="517.4" cy="136.7" r="1.85" fill="#e44c44" fill-opacity="0.92"/>
<circle cx="523.5" cy="136.0" r="1.85" fill="#e44c44" fill-opacity="0.92"/>
<circle cx="510.5" cy="143.6" r="1.85" fill="#e44c44" fill-opacity="0.92"/>
<circle cx="521.5" cy="143.6" r="1.85" fill="#e44c44" fill-opacity="0.92"/>
<circle cx="525.8" cy="145.6" r="1.85" fill="#e44c44" fill-opacity="0.92"/>
<circle cx="503.7" cy="153.8" r="1.85" fill="#e44c44" fill-opacity="0.92"/>
<circle cx="510.5" cy="153.1" r="1.85" fill="#e44c44" fill-opacity="0.92"/>
<circle cx="511.9" cy="155.9" r="1.85" fill="#e44c44" fill-opacity="0.92"/>
<circle cx="520.8" cy="154.5" r="1.85" fill="#e44c44" fill-opacity="0.92"/>
<circle cx="531.0" cy="156.6" r="1.85" fill="#e44c44" fill-opacity="0.92"/>
<circle cx="533.8" cy="152.5" r="1.85" fill="#e44c44" fill-opacity="0.92"/>
<circle cx="506.8" cy="159.0" r="1.85" fill="#e44c44" fill-opacity="0.92"/>
<circle cx="522.8" cy="149.0" r="1.85" fill="#e44c44" fill-opacity="0.92"/>
<circle cx="532.4" cy="148.4" r="1.85" fill="#e44c44" fill-opacity="0.92"/>
<circle cx="517.6" cy="148.1" r="1.85" fill="#e44c44" fill-opacity="0.92"/>
<circle cx="522.4" cy="140.1" r="1.85" fill="#e44c44" fill-opacity="0.92"/>
<circle cx="524.8" cy="143.3" r="1.85" fill="#e44c44" fill-opacity="0.92"/>
<circle cx="504.3" cy="143.5" r="1.85" fill="#e44c44" fill-opacity="0.92"/>
<circle cx="524.6" cy="142.5" r="1.85" fill="#e44c44" fill-opacity="0.92"/>
<circle cx="524.9" cy="155.6" r="1.85" fill="#e44c44" fill-opacity="0.92"/>
<circle cx="517.3" cy="145.5" r="1.85" fill="#e44c44" fill-opacity="0.92"/>
<circle cx="516.8" cy="150.6" r="1.85" fill="#e44c44" fill-opacity="0.92"/>
<circle cx="525.8" cy="149.5" r="1.85" fill="#e44c44" fill-opacity="0.92"/>
<circle cx="521.9" cy="140.3" r="1.85" fill="#e44c44" fill-opacity="0.92"/>
<circle cx="506.6" cy="143.3" r="1.85" fill="#e44c44" fill-opacity="0.92"/>
<circle cx="525.0" cy="144.2" r="1.85" fill="#e44c44" fill-opacity="0.92"/>
<circle cx="519.6" cy="139.2" r="1.85" fill="#e44c44" fill-opacity="0.92"/>
<circle cx="503.9" cy="143.6" r="1.85" fill="#e44c44" fill-opacity="0.92"/>
<circle cx="522.8" cy="150.8" r="1.85" fill="#e44c44" fill-opacity="0.92"/>
<circle cx="522.9" cy="143.9" r="1.85" fill="#e44c44" fill-opacity="0.92"/>
<circle cx="518.0" cy="146.9" r="1.85" fill="#e44c44" fill-opacity="0.92"/>
<circle cx="516.5" cy="141.0" r="1.85" fill="#e44c44" fill-opacity="0.92"/>
<circle cx="529.7" cy="142.4" r="1.85" fill="#e44c44" fill-opacity="0.92"/>
<circle cx="532.3" cy="154.9" r="1.85" fill="#e44c44" fill-opacity="0.92"/>
<text x="517.27" y="115.35" text-anchor="middle" font-size="12" fill="#1a1a1a" stroke="#1a1a1a" stroke-width="0.35">a</text>
<path d="M408.4,24.0 V166.8 H542.4" fill="none" stroke="#262626" stroke-width="1.7"/>
<line x1="405.4" y1="160.5" x2="408.4" y2="160.5" stroke="#262626" stroke-width="1.2"/>
<text transform="translate(403.80,164.20) scale(1.0,1.1)" text-anchor="end" font-size="9" fill="#666666" stroke="#666666" stroke-width="0.5">0.0</text>
<line x1="405.4" y1="122.2" x2="408.4" y2="122.2" stroke="#262626" stroke-width="1.2"/>
<text transform="translate(403.80,125.90) scale(1.0,1.1)" text-anchor="end" font-size="9" fill="#666666" stroke="#666666" stroke-width="0.5">0.2</text>
<line x1="405.4" y1="84.0" x2="408.4" y2="84.0" stroke="#262626" stroke-width="1.2"/>
<text transform="translate(403.80,87.70) scale(1.0,1.1)" text-anchor="end" font-size="9" fill="#666666" stroke="#666666" stroke-width="0.5">0.4</text>
<line x1="405.4" y1="45.7" x2="408.4" y2="45.7" stroke="#262626" stroke-width="1.2"/>
<text transform="translate(403.80,49.40) scale(1.0,1.1)" text-anchor="end" font-size="9" fill="#666666" stroke="#666666" stroke-width="0.5">0.6</text>
<line x1="433.5" y1="166.8" x2="433.5" y2="169.8" stroke="#262626" stroke-width="1.2"/>
<text transform="translate(433.52,178.90) scale(1.0,1.1)" text-anchor="middle" font-size="9" fill="#5a5a5a" stroke="#5a5a5a" stroke-width="0.45">SNP</text>
<line x1="475.4" y1="166.8" x2="475.4" y2="169.8" stroke="#262626" stroke-width="1.2"/>
<text transform="translate(475.40,178.90) scale(1.0,1.1)" text-anchor="middle" font-size="9" fill="#5a5a5a" stroke="#5a5a5a" stroke-width="0.45">TH</text>
<line x1="517.3" y1="166.8" x2="517.3" y2="169.8" stroke="#262626" stroke-width="1.2"/>
<text transform="translate(517.27,178.90) scale(1.0,1.1)" text-anchor="middle" font-size="9" fill="#5a5a5a" stroke="#5a5a5a" stroke-width="0.45">UA</text></g>
<g><text transform="translate(9.05,202.30) scale(1.0,1.06)" font-weight="bold" font-size="14" fill="#000">D</text>
<text x="45.50" y="198.50" font-size="9.15" fill="#262626" stroke="#262626" stroke-width="0.35">Ammonia oxidation (archaea)</text>
<text transform="translate(17.4,277.30) rotate(-90)" text-anchor="middle" font-size="11.5" fill="#1c1c1c" stroke="#1c1c1c" stroke-width="0.35">Proportion (%)</text>
<line x1="70.6" y1="235.3" x2="70.6" y2="258.8" stroke="#3c8f79" stroke-width="1.0"/>
<line x1="70.6" y1="277.1" x2="70.6" y2="296.3" stroke="#3c8f79" stroke-width="1.0"/>
<rect x="54.9" y="258.8" width="31.4" height="18.3" fill="#1b9e7e" fill-opacity="0.4" stroke="#3c8f79" stroke-width="0.9" stroke-opacity="0.85"/>
<line x1="54.9" y1="270.9" x2="86.3" y2="270.9" stroke="#1b9e7e" stroke-width="2.2"/>
<circle cx="66.6" cy="235.3" r="1.85" fill="#1b9e7e" fill-opacity="0.92"/>
<circle cx="71.0" cy="243.0" r="1.85" fill="#1b9e7e" fill-opacity="0.92"/>
<circle cx="57.0" cy="243.0" r="1.85" fill="#1b9e7e" fill-opacity="0.92"/>
<circle cx="57.0" cy="245.2" r="1.85" fill="#1b9e7e" fill-opacity="0.92"/>
<circle cx="60.3" cy="249.5" r="1.85" fill="#1b9e7e" fill-opacity="0.92"/>
<circle cx="81.4" cy="252.0" r="1.85" fill="#1b9e7e" fill-opacity="0.92"/>
<circle cx="57.0" cy="255.2" r="1.85" fill="#1b9e7e" fill-opacity="0.92"/>
<circle cx="63.3" cy="258.1" r="1.85" fill="#1b9e7e" fill-opacity="0.92"/>
<circle cx="65.0" cy="258.3" r="1.85" fill="#1b9e7e" fill-opacity="0.92"/>
<circle cx="67.7" cy="262.1" r="1.85" fill="#1b9e7e" fill-opacity="0.92"/>
<circle cx="74.8" cy="263.8" r="1.85" fill="#1b9e7e" fill-opacity="0.92"/>
<circle cx="60.0" cy="266.0" r="1.85" fill="#1b9e7e" fill-opacity="0.92"/>
<circle cx="63.3" cy="267.0" r="1.85" fill="#1b9e7e" fill-opacity="0.92"/>
<circle cx="86.3" cy="265.4" r="1.85" fill="#1b9e7e" fill-opacity="0.92"/>
<circle cx="56.2" cy="275.8" r="1.85" fill="#1b9e7e" fill-opacity="0.92"/>
<circle cx="63.3" cy="275.3" r="1.85" fill="#1b9e7e" fill-opacity="0.92"/>
<circle cx="71.5" cy="275.3" r="1.85" fill="#1b9e7e" fill-opacity="0.92"/>
<circle cx="80.8" cy="275.8" r="1.85" fill="#1b9e7e" fill-opacity="0.92"/>
<circle cx="57.8" cy="262.1" r="1.85" fill="#1b9e7e" fill-opacity="0.92"/>
<circle cx="66.0" cy="279.8" r="1.85" fill="#1b9e7e" fill-opacity="0.92"/>
<circle cx="68.2" cy="285.3" r="1.85" fill="#1b9e7e" fill-opacity="0.92"/>
<circle cx="71.0" cy="285.9" r="1.85" fill="#1b9e7e" fill-opacity="0.92"/>
<circle cx="60.6" cy="288.1" r="1.85" fill="#1b9e7e" fill-opacity="0.92"/>
<circle cx="56.5" cy="293.5" r="1.85" fill="#1b9e7e" fill-opacity="0.92"/>
<circle cx="78.1" cy="296.3" r="1.85" fill="#1b9e7e" fill-opacity="0.92"/>
<circle cx="83.2" cy="294.1" r="1.85" fill="#1b9e7e" fill-opacity="0.92"/>
<circle cx="57.3" cy="304.8" r="1.85" fill="#1b9e7e" fill-opacity="0.92"/>
<text x="70.62" y="230.45" text-anchor="middle" font-size="12" fill="#1a1a1a" stroke="#1a1a1a" stroke-width="0.35">a</text>
<line x1="112.5" y1="218.7" x2="112.5" y2="251.5" stroke="#4f80a8" stroke-width="1.0"/>
<line x1="112.5" y1="279.1" x2="112.5" y2="291.7" stroke="#4f80a8" stroke-width="1.0"/>
<rect x="96.8" y="251.5" width="31.4" height="27.6" fill="#1f72b8" fill-opacity="0.4" stroke="#4f80a8" stroke-width="0.9" stroke-opacity="0.85"/>
<line x1="96.8" y1="269.2" x2="128.2" y2="269.2" stroke="#1f72b8" stroke-width="2.2"/>
<circle cx="105.1" cy="218.7" r="1.85" fill="#1f72b8" fill-opacity="0.92"/>
<circle cx="96.3" cy="229.1" r="1.85" fill="#1f72b8" fill-opacity="0.92"/>
<circle cx="116.8" cy="236.2" r="1.85" fill="#1f72b8" fill-opacity="0.92"/>
<circle cx="123.0" cy="236.7" r="1.85" fill="#1f72b8" fill-opacity="0.92"/>
<circle cx="121.5" cy="240.6" r="1.85" fill="#1f72b8" fill-opacity="0.92"/>
<circle cx="116.3" cy="242.2" r="1.85" fill="#1f72b8" fill-opacity="0.92"/>
<circle cx="96.8" cy="243.3" r="1.85" fill="#1f72b8" fill-opacity="0.92"/>
<circle cx="98.8" cy="246.8" r="1.85" fill="#1f72b8" fill-opacity="0.92"/>
<circle cx="110.2" cy="251.8" r="1.85" fill="#1f72b8" fill-opacity="0.92"/>
<circle cx="104.2" cy="254.5" r="1.85" fill="#1f72b8" fill-opacity="0.92"/>
<circle cx="115.2" cy="254.0" r="1.85" fill="#1f72b8" fill-opacity="0.92"/>
<circle cx="122.8" cy="258.6" r="1.85" fill="#1f72b8" fill-opacity="0.92"/>
<circle cx="123.4" cy="261.3" r="1.85" fill="#1f72b8" fill-opacity="0.92"/>
<circle cx="100.1" cy="265.7" r="1.85" fill="#1f72b8" fill-opacity="0.92"/>
<circle cx="116.5" cy="265.1" r="1.85" fill="#1f72b8" fill-opacity="0.92"/>
<circle cx="126.1" cy="267.0" r="1.85" fill="#1f72b8" fill-opacity="0.92"/>
<circle cx="105.3" cy="273.1" r="1.85" fill="#1f72b8" fill-opacity="0.92"/>
<circle cx="107.5" cy="273.6" r="1.85" fill="#1f72b8" fill-opacity="0.92"/>
<circle cx="112.8" cy="272.0" r="1.85" fill="#1f72b8" fill-opacity="0.92"/>
<circle cx="96.3" cy="276.3" r="1.85" fill="#1f72b8" fill-opacity="0.92"/>
<circle cx="99.8" cy="280.4" r="1.85" fill="#1f72b8" fill-opacity="0.92"/>
<circle cx="103.7" cy="279.6" r="1.85" fill="#1f72b8" fill-opacity="0.92"/>
<circle cx="109.1" cy="280.0" r="1.85" fill="#1f72b8" fill-opacity="0.92"/>
<circle cx="115.4" cy="281.8" r="1.85" fill="#1f72b8" fill-opacity="0.92"/>
<circle cx="121.7" cy="278.5" r="1.85" fill="#1f72b8" fill-opacity="0.92"/>
<circle cx="120.9" cy="284.8" r="1.85" fill="#1f72b8" fill-opacity="0.92"/>
<circle cx="129.2" cy="282.9" r="1.85" fill="#1f72b8" fill-opacity="0.92"/>
<circle cx="100.7" cy="288.9" r="1.85" fill="#1f72b8" fill-opacity="0.92"/>
<circle cx="125.6" cy="291.1" r="1.85" fill="#1f72b8" fill-opacity="0.92"/>
<text x="112.50" y="213.35" text-anchor="middle" font-size="12" fill="#1a1a1a" stroke="#1a1a1a" stroke-width="0.35">a</text>
<line x1="154.4" y1="282.7" x2="154.4" y2="295.3" stroke="#d27a82" stroke-width="1.0"/>
<line x1="154.4" y1="311.9" x2="154.4" y2="337.0" stroke="#d27a82" stroke-width="1.0"/>
<rect x="138.7" y="295.3" width="31.4" height="16.6" fill="#e44c44" fill-opacity="0.4" stroke="#d27a82" stroke-width="0.9" stroke-opacity="0.85"/>
<line x1="138.7" y1="306.2" x2="170.1" y2="306.2" stroke="#e44c44" stroke-width="2.2"/>
<circle cx="170.8" cy="258.7" r="1.85" fill="#e44c44" fill-opacity="0.92"/>
<circle cx="139.9" cy="283.1" r="1.85" fill="#e44c44" fill-opacity="0.92"/>
<circle cx="142.9" cy="283.5" r="1.85" fill="#e44c44" fill-opacity="0.92"/>
<circle cx="155.0" cy="286.4" r="1.85" fill="#e44c44" fill-opacity="0.92"/>
<circle cx="139.9" cy="290.4" r="1.85" fill="#e44c44" fill-opacity="0.92"/>
<circle cx="150.1" cy="294.2" r="1.85" fill="#e44c44" fill-opacity="0.92"/>
<circle cx="155.5" cy="294.8" r="1.85" fill="#e44c44" fill-opacity="0.92"/>
<circle cx="169.0" cy="293.1" r="1.85" fill="#e44c44" fill-opacity="0.92"/>
<circle cx="149.0" cy="298.6" r="1.85" fill="#e44c44" fill-opacity="0.92"/>
<circle cx="142.9" cy="299.7" r="1.85" fill="#e44c44" fill-opacity="0.92"/>
<circle cx="162.6" cy="299.2" r="1.85" fill="#e44c44" fill-opacity="0.92"/>
<circle cx="147.3" cy="305.3" r="1.85" fill="#e44c44" fill-opacity="0.92"/>
<circle cx="163.7" cy="305.9" r="1.85" fill="#e44c44" fill-opacity="0.92"/>
<circle cx="143.5" cy="310.8" r="1.85" fill="#e44c44" fill-opacity="0.92"/>
<circle cx="146.8" cy="310.2" r="1.85" fill="#e44c44" fill-opacity="0.92"/>
<circle cx="149.5" cy="313.5" r="1.85" fill="#e44c44" fill-opacity="0.92"/>
<circle cx="154.4" cy="311.9" r="1.85" fill="#e44c44" fill-opacity="0.92"/>
<circle cx="159.6" cy="312.4" r="1.85" fill="#e44c44" fill-opacity="0.92"/>
<circle cx="163.7" cy="309.7" r="1.85" fill="#e44c44" fill-opacity="0.92"/>
<circle cx="165.7" cy="315.7" r="1.85" fill="#e44c44" fill-opacity="0.92"/>
<circle cx="144.6" cy="317.9" r="1.85" fill="#e44c44" fill-opacity="0.92"/>
<circle cx="146.2" cy="322.3" r="1.85" fill="#e44c44" fill-opacity="0.92"/>
<circle cx="159.6" cy="320.9" r="1.85" fill="#e44c44" fill-opacity="0.92"/>
<circle cx="141.8" cy="330.0" r="1.85" fill="#e44c44" fill-opacity="0.92"/>
<circle cx="169.2" cy="330.3" r="1.85" fill="#e44c44" fill-opacity="0.92"/>
<circle cx="150.1" cy="336.8" r="1.85" fill="#e44c44" fill-opacity="0.92"/>
<circle cx="139.5" cy="303.3" r="1.85" fill="#e44c44" fill-opacity="0.92"/>
<circle cx="163.6" cy="311.5" r="1.85" fill="#e44c44" fill-opacity="0.92"/>
<circle cx="152.5" cy="300.3" r="1.85" fill="#e44c44" fill-opacity="0.92"/>
<circle cx="145.3" cy="311.1" r="1.85" fill="#e44c44" fill-opacity="0.92"/>
<circle cx="145.3" cy="305.3" r="1.85" fill="#e44c44" fill-opacity="0.92"/>
<circle cx="143.3" cy="304.4" r="1.85" fill="#e44c44" fill-opacity="0.92"/>
<circle cx="167.6" cy="298.1" r="1.85" fill="#e44c44" fill-opacity="0.92"/>
<circle cx="163.6" cy="304.1" r="1.85" fill="#e44c44" fill-opacity="0.92"/>
<text x="154.38" y="278.25" text-anchor="middle" font-size="12" fill="#1a1a1a" stroke="#1a1a1a" stroke-width="0.35">b</text>
<path d="M45.5,205.9 V348.5 H179.5" fill="none" stroke="#262626" stroke-width="1.7"/>
<line x1="42.5" y1="342.4" x2="45.5" y2="342.4" stroke="#262626" stroke-width="1.2"/>
<text transform="translate(40.90,346.10) scale(1.0,1.1)" text-anchor="end" font-size="9" fill="#666666" stroke="#666666" stroke-width="0.5">0</text>
<line x1="42.5" y1="307.9" x2="45.5" y2="307.9" stroke="#262626" stroke-width="1.2"/>
<text transform="translate(40.90,311.60) scale(1.0,1.1)" text-anchor="end" font-size="9" fill="#666666" stroke="#666666" stroke-width="0.5">2</text>
<line x1="42.5" y1="273.3" x2="45.5" y2="273.3" stroke="#262626" stroke-width="1.2"/>
<text transform="translate(40.90,277.00) scale(1.0,1.1)" text-anchor="end" font-size="9" fill="#666666" stroke="#666666" stroke-width="0.5">4</text>
<line x1="42.5" y1="238.8" x2="45.5" y2="238.8" stroke="#262626" stroke-width="1.2"/>
<text transform="translate(40.90,242.50) scale(1.0,1.1)" text-anchor="end" font-size="9" fill="#666666" stroke="#666666" stroke-width="0.5">6</text>
<line x1="70.6" y1="348.5" x2="70.6" y2="351.5" stroke="#262626" stroke-width="1.2"/>
<text transform="translate(70.62,360.60) scale(1.0,1.1)" text-anchor="middle" font-size="9" fill="#5a5a5a" stroke="#5a5a5a" stroke-width="0.45">SNP</text>
<line x1="112.5" y1="348.5" x2="112.5" y2="351.5" stroke="#262626" stroke-width="1.2"/>
<text transform="translate(112.50,360.60) scale(1.0,1.1)" text-anchor="middle" font-size="9" fill="#5a5a5a" stroke="#5a5a5a" stroke-width="0.45">TH</text>
<line x1="154.4" y1="348.5" x2="154.4" y2="351.5" stroke="#262626" stroke-width="1.2"/>
<text transform="translate(154.38,360.60) scale(1.0,1.1)" text-anchor="middle" font-size="9" fill="#5a5a5a" stroke="#5a5a5a" stroke-width="0.45">UA</text></g>
<g><text transform="translate(190.17,202.30) scale(1.0,1.06)" font-weight="bold" font-size="14" fill="#000">E</text>
<text x="226.80" y="198.50" font-size="9.15" fill="#262626" stroke="#262626" stroke-width="0.35">Ammonia oxidation (bacteria)</text>
<text transform="translate(199.3,277.30) rotate(-90)" text-anchor="middle" font-size="11.5" fill="#1c1c1c" stroke="#1c1c1c" stroke-width="0.35">Proportion (%)</text>
<line x1="251.9" y1="292.6" x2="251.9" y2="316.2" stroke="#3c8f79" stroke-width="1.0"/>
<line x1="251.9" y1="332.5" x2="251.9" y2="338.5" stroke="#3c8f79" stroke-width="1.0"/>
<rect x="236.2" y="316.2" width="31.4" height="16.3" fill="#1b9e7e" fill-opacity="0.4" stroke="#3c8f79" stroke-width="0.9" stroke-opacity="0.85"/>
<line x1="236.2" y1="323.6" x2="267.6" y2="323.6" stroke="#1b9e7e" stroke-width="2.2"/>
<circle cx="242.4" cy="290.4" r="1.85" fill="#1b9e7e" fill-opacity="0.92"/>
<circle cx="254.3" cy="292.6" r="1.85" fill="#1b9e7e" fill-opacity="0.92"/>
<circle cx="256.7" cy="298.8" r="1.85" fill="#1b9e7e" fill-opacity="0.92"/>
<circle cx="260.6" cy="304.6" r="1.85" fill="#1b9e7e" fill-opacity="0.92"/>
<circle cx="263.6" cy="306.3" r="1.85" fill="#1b9e7e" fill-opacity="0.92"/>
<circle cx="250.4" cy="311.2" r="1.85" fill="#1b9e7e" fill-opacity="0.92"/>
<circle cx="261.4" cy="311.7" r="1.85" fill="#1b9e7e" fill-opacity="0.92"/>
<circle cx="265.7" cy="312.0" r="1.85" fill="#1b9e7e" fill-opacity="0.92"/>
<circle cx="241.7" cy="315.6" r="1.85" fill="#1b9e7e" fill-opacity="0.92"/>
<circle cx="253.7" cy="317.7" r="1.85" fill="#1b9e7e" fill-opacity="0.92"/>
<circle cx="258.6" cy="318.3" r="1.85" fill="#1b9e7e" fill-opacity="0.92"/>
<circle cx="244.4" cy="320.5" r="1.85" fill="#1b9e7e" fill-opacity="0.92"/>
<circle cx="247.1" cy="320.5" r="1.85" fill="#1b9e7e" fill-opacity="0.92"/>
<circle cx="238.9" cy="321.6" r="1.85" fill="#1b9e7e" fill-opacity="0.92"/>
<circle cx="260.8" cy="322.1" r="1.85" fill="#1b9e7e" fill-opacity="0.92"/>
<circle cx="259.7" cy="326.5" r="1.85" fill="#1b9e7e" fill-opacity="0.92"/>
<circle cx="263.0" cy="329.2" r="1.85" fill="#1b9e7e" fill-opacity="0.92"/>
<circle cx="252.6" cy="330.3" r="1.85" fill="#1b9e7e" fill-opacity="0.92"/>
<circle cx="251.0" cy="332.0" r="1.85" fill="#1b9e7e" fill-opacity="0.92"/>
<circle cx="237.3" cy="334.5" r="1.85" fill="#1b9e7e" fill-opacity="0.92"/>
<circle cx="256.7" cy="336.7" r="1.85" fill="#1b9e7e" fill-opacity="0.92"/>
<circle cx="266.8" cy="336.3" r="1.85" fill="#1b9e7e" fill-opacity="0.92"/>
<circle cx="246.0" cy="339.1" r="1.85" fill="#1b9e7e" fill-opacity="0.92"/>
<circle cx="252.6" cy="338.5" r="1.85" fill="#1b9e7e" fill-opacity="0.92"/>
<circle cx="241.4" cy="341.4" r="1.85" fill="#1b9e7e" fill-opacity="0.92"/>
<circle cx="264.3" cy="340.7" r="1.85" fill="#1b9e7e" fill-opacity="0.92"/>
<circle cx="254.1" cy="331.8" r="1.85" fill="#1b9e7e" fill-opacity="0.92"/>
<text x="251.93" y="287.55" text-anchor="middle" font-size="12" fill="#1a1a1a" stroke="#1a1a1a" stroke-width="0.35">b</text>
<line x1="293.8" y1="322.1" x2="293.8" y2="329.9" stroke="#4f80a8" stroke-width="1.0"/>
<line x1="293.8" y1="336.4" x2="293.8" y2="341.7" stroke="#4f80a8" stroke-width="1.0"/>
<rect x="278.1" y="329.9" width="31.4" height="6.5" fill="#1f72b8" fill-opacity="0.4" stroke="#4f80a8" stroke-width="0.9" stroke-opacity="0.85"/>
<line x1="278.1" y1="333.2" x2="309.5" y2="333.2" stroke="#1f72b8" stroke-width="2.2"/>
<circle cx="280.5" cy="313.6" r="1.85" fill="#1f72b8" fill-opacity="0.92"/>
<circle cx="280.0" cy="316.6" r="1.85" fill="#1f72b8" fill-opacity="0.92"/>
<circle cx="305.1" cy="316.1" r="1.85" fill="#1f72b8" fill-opacity="0.92"/>
<circle cx="296.6" cy="322.1" r="1.85" fill="#1f72b8" fill-opacity="0.92"/>
<circle cx="286.6" cy="325.6" r="1.85" fill="#1f72b8" fill-opacity="0.92"/>
<circle cx="290.1" cy="326.6" r="1.85" fill="#1f72b8" fill-opacity="0.92"/>
<circle cx="278.0" cy="330.6" r="1.85" fill="#1f72b8" fill-opacity="0.92"/>
<circle cx="305.1" cy="330.6" r="1.85" fill="#1f72b8" fill-opacity="0.92"/>
<circle cx="281.5" cy="339.2" r="1.85" fill="#1f72b8" fill-opacity="0.92"/>
<circle cx="284.9" cy="342.0" r="1.85" fill="#1f72b8" fill-opacity="0.92"/>
<circle cx="288.1" cy="338.2" r="1.85" fill="#1f72b8" fill-opacity="0.92"/>
<circle cx="297.1" cy="339.2" r="1.85" fill="#1f72b8" fill-opacity="0.92"/>
<circle cx="307.6" cy="337.7" r="1.85" fill="#1f72b8" fill-opacity="0.92"/>
<circle cx="305.5" cy="335.6" r="1.85" fill="#1f72b8" fill-opacity="0.92"/>
<circle cx="285.2" cy="336.8" r="1.85" fill="#1f72b8" fill-opacity="0.92"/>
<circle cx="293.1" cy="331.2" r="1.85" fill="#1f72b8" fill-opacity="0.92"/>
<circle cx="278.1" cy="334.2" r="1.85" fill="#1f72b8" fill-opacity="0.92"/>
<circle cx="292.0" cy="333.0" r="1.85" fill="#1f72b8" fill-opacity="0.92"/>
<circle cx="282.4" cy="333.2" r="1.85" fill="#1f72b8" fill-opacity="0.92"/>
<circle cx="287.8" cy="336.5" r="1.85" fill="#1f72b8" fill-opacity="0.92"/>
<circle cx="278.1" cy="335.9" r="1.85" fill="#1f72b8" fill-opacity="0.92"/>
<circle cx="304.0" cy="331.8" r="1.85" fill="#1f72b8" fill-opacity="0.92"/>
<circle cx="306.7" cy="335.6" r="1.85" fill="#1f72b8" fill-opacity="0.92"/>
<circle cx="305.9" cy="332.9" r="1.85" fill="#1f72b8" fill-opacity="0.92"/>
<circle cx="289.5" cy="333.6" r="1.85" fill="#1f72b8" fill-opacity="0.92"/>
<circle cx="309.0" cy="334.8" r="1.85" fill="#1f72b8" fill-opacity="0.92"/>
<circle cx="289.2" cy="333.8" r="1.85" fill="#1f72b8" fill-opacity="0.92"/>
<circle cx="286.5" cy="331.3" r="1.85" fill="#1f72b8" fill-opacity="0.92"/>
<circle cx="281.2" cy="336.4" r="1.85" fill="#1f72b8" fill-opacity="0.92"/>
<circle cx="286.9" cy="337.1" r="1.85" fill="#1f72b8" fill-opacity="0.92"/>
<circle cx="285.7" cy="332.7" r="1.85" fill="#1f72b8" fill-opacity="0.92"/>
<circle cx="293.8" cy="332.2" r="1.85" fill="#1f72b8" fill-opacity="0.92"/>
<circle cx="289.6" cy="337.2" r="1.85" fill="#1f72b8" fill-opacity="0.92"/>
<circle cx="305.4" cy="336.3" r="1.85" fill="#1f72b8" fill-opacity="0.92"/>
<circle cx="297.6" cy="336.9" r="1.85" fill="#1f72b8" fill-opacity="0.92"/>
<circle cx="307.2" cy="334.6" r="1.85" fill="#1f72b8" fill-opacity="0.92"/>
<circle cx="300.3" cy="331.3" r="1.85" fill="#1f72b8" fill-opacity="0.92"/>
<circle cx="300.7" cy="333.9" r="1.85" fill="#1f72b8" fill-opacity="0.92"/>
<circle cx="301.3" cy="335.2" r="1.85" fill="#1f72b8" fill-opacity="0.92"/>
<circle cx="286.9" cy="331.3" r="1.85" fill="#1f72b8" fill-opacity="0.92"/>
<circle cx="306.7" cy="331.8" r="1.85" fill="#1f72b8" fill-opacity="0.92"/>
<circle cx="292.6" cy="333.2" r="1.85" fill="#1f72b8" fill-opacity="0.92"/>
<circle cx="287.2" cy="335.8" r="1.85" fill="#1f72b8" fill-opacity="0.92"/>
<circle cx="308.3" cy="332.7" r="1.85" fill="#1f72b8" fill-opacity="0.92"/>
<circle cx="298.3" cy="333.0" r="1.85" fill="#1f72b8" fill-opacity="0.92"/>
<circle cx="295.3" cy="333.6" r="1.85" fill="#1f72b8" fill-opacity="0.92"/>
<circle cx="283.2" cy="332.1" r="1.85" fill="#1f72b8" fill-opacity="0.92"/>
<circle cx="284.4" cy="336.9" r="1.85" fill="#1f72b8" fill-opacity="0.92"/>
<circle cx="293.4" cy="332.4" r="1.85" fill="#1f72b8" fill-opacity="0.92"/>
<circle cx="306.1" cy="337.5" r="1.85" fill="#1f72b8" fill-opacity="0.92"/>
<circle cx="291.9" cy="331.9" r="1.85" fill="#1f72b8" fill-opacity="0.92"/>
<circle cx="284.0" cy="331.6" r="1.85" fill="#1f72b8" fill-opacity="0.92"/>
<circle cx="288.6" cy="331.6" r="1.85" fill="#1f72b8" fill-opacity="0.92"/>
<text x="293.80" y="317.55" text-anchor="middle" font-size="12" fill="#1a1a1a" stroke="#1a1a1a" stroke-width="0.35">c</text>
<line x1="335.7" y1="226.9" x2="335.7" y2="267.0" stroke="#d27a82" stroke-width="1.0"/>
<line x1="335.7" y1="303.3" x2="335.7" y2="340.1" stroke="#d27a82" stroke-width="1.0"/>
<rect x="320.0" y="267.0" width="31.4" height="36.3" fill="#e44c44" fill-opacity="0.4" stroke="#d27a82" stroke-width="0.9" stroke-opacity="0.85"/>
<line x1="320.0" y1="281.8" x2="351.4" y2="281.8" stroke="#e44c44" stroke-width="2.2"/>
<circle cx="345.4" cy="212.7" r="1.85" fill="#e44c44" fill-opacity="0.92"/>
<circle cx="338.5" cy="227.1" r="1.85" fill="#e44c44" fill-opacity="0.92"/>
<circle cx="337.2" cy="238.9" r="1.85" fill="#e44c44" fill-opacity="0.92"/>
<circle cx="341.3" cy="243.5" r="1.85" fill="#e44c44" fill-opacity="0.92"/>
<circle cx="339.9" cy="246.0" r="1.85" fill="#e44c44" fill-opacity="0.92"/>
<circle cx="323.5" cy="258.8" r="1.85" fill="#e44c44" fill-opacity="0.92"/>
<circle cx="332.6" cy="262.9" r="1.85" fill="#e44c44" fill-opacity="0.92"/>
<circle cx="341.5" cy="264.6" r="1.85" fill="#e44c44" fill-opacity="0.92"/>
<circle cx="324.9" cy="265.7" r="1.85" fill="#e44c44" fill-opacity="0.92"/>
<circle cx="323.2" cy="270.9" r="1.85" fill="#e44c44" fill-opacity="0.92"/>
<circle cx="338.5" cy="274.1" r="1.85" fill="#e44c44" fill-opacity="0.92"/>
<circle cx="345.4" cy="275.2" r="1.85" fill="#e44c44" fill-opacity="0.92"/>
<circle cx="346.8" cy="275.8" r="1.85" fill="#e44c44" fill-opacity="0.92"/>
<circle cx="345.9" cy="272.5" r="1.85" fill="#e44c44" fill-opacity="0.92"/>
<circle cx="323.5" cy="278.5" r="1.85" fill="#e44c44" fill-opacity="0.92"/>
<circle cx="325.7" cy="281.0" r="1.85" fill="#e44c44" fill-opacity="0.92"/>
<circle cx="323.8" cy="283.2" r="1.85" fill="#e44c44" fill-opacity="0.92"/>
<circle cx="339.9" cy="282.9" r="1.85" fill="#e44c44" fill-opacity="0.92"/>
<circle cx="320.5" cy="287.3" r="1.85" fill="#e44c44" fill-opacity="0.92"/>
<circle cx="336.6" cy="291.7" r="1.85" fill="#e44c44" fill-opacity="0.92"/>
<circle cx="347.6" cy="289.8" r="1.85" fill="#e44c44" fill-opacity="0.92"/>
<circle cx="350.3" cy="290.0" r="1.85" fill="#e44c44" fill-opacity="0.92"/>
<circle cx="344.6" cy="296.6" r="1.85" fill="#e44c44" fill-opacity="0.92"/>
<circle cx="327.3" cy="303.1" r="1.85" fill="#e44c44" fill-opacity="0.92"/>
<circle cx="329.5" cy="303.7" r="1.85" fill="#e44c44" fill-opacity="0.92"/>
<circle cx="330.8" cy="305.3" r="1.85" fill="#e44c44" fill-opacity="0.92"/>
<circle cx="320.8" cy="305.9" r="1.85" fill="#e44c44" fill-opacity="0.92"/>
<circle cx="338.3" cy="310.8" r="1.85" fill="#e44c44" fill-opacity="0.92"/>
<circle cx="343.2" cy="317.2" r="1.85" fill="#e44c44" fill-opacity="0.92"/>
<circle cx="349.0" cy="326.5" r="1.85" fill="#e44c44" fill-opacity="0.92"/>
<circle cx="340.3" cy="333.6" r="1.85" fill="#e44c44" fill-opacity="0.92"/>
<circle cx="346.5" cy="340.0" r="1.85" fill="#e44c44" fill-opacity="0.92"/>
<text x="335.68" y="222.35" text-anchor="middle" font-size="12" fill="#1a1a1a" stroke="#1a1a1a" stroke-width="0.35">a</text>
<path d="M226.8,205.9 V348.5 H360.8" fill="none" stroke="#262626" stroke-width="1.7"/>
<line x1="223.8" y1="344.4" x2="226.8" y2="344.4" stroke="#262626" stroke-width="1.2"/>
<text transform="translate(222.20,348.10) scale(1.0,1.1)" text-anchor="end" font-size="9" fill="#666666" stroke="#666666" stroke-width="0.5">0.0</text>
<line x1="223.8" y1="317.7" x2="226.8" y2="317.7" stroke="#262626" stroke-width="1.2"/>
<text transform="translate(222.20,321.40) scale(1.0,1.1)" text-anchor="end" font-size="9" fill="#666666" stroke="#666666" stroke-width="0.5">0.5</text>
<line x1="223.8" y1="291.0" x2="226.8" y2="291.0" stroke="#262626" stroke-width="1.2"/>
<text transform="translate(222.20,294.70) scale(1.0,1.1)" text-anchor="end" font-size="9" fill="#666666" stroke="#666666" stroke-width="0.5">1.0</text>
<line x1="223.8" y1="264.3" x2="226.8" y2="264.3" stroke="#262626" stroke-width="1.2"/>
<text transform="translate(222.20,268.00) scale(1.0,1.1)" text-anchor="end" font-size="9" fill="#666666" stroke="#666666" stroke-width="0.5">1.5</text>
<line x1="223.8" y1="237.6" x2="226.8" y2="237.6" stroke="#262626" stroke-width="1.2"/>
<text transform="translate(222.20,241.30) scale(1.0,1.1)" text-anchor="end" font-size="9" fill="#666666" stroke="#666666" stroke-width="0.5">2.0</text>
<line x1="223.8" y1="210.9" x2="226.8" y2="210.9" stroke="#262626" stroke-width="1.2"/>
<text transform="translate(222.20,214.60) scale(1.0,1.1)" text-anchor="end" font-size="9" fill="#666666" stroke="#666666" stroke-width="0.5">2.5</text>
<line x1="251.9" y1="348.5" x2="251.9" y2="351.5" stroke="#262626" stroke-width="1.2"/>
<text transform="translate(251.93,360.60) scale(1.0,1.1)" text-anchor="middle" font-size="9" fill="#5a5a5a" stroke="#5a5a5a" stroke-width="0.45">SNP</text>
<line x1="293.8" y1="348.5" x2="293.8" y2="351.5" stroke="#262626" stroke-width="1.2"/>
<text transform="translate(293.80,360.60) scale(1.0,1.1)" text-anchor="middle" font-size="9" fill="#5a5a5a" stroke="#5a5a5a" stroke-width="0.45">TH</text>
<line x1="335.7" y1="348.5" x2="335.7" y2="351.5" stroke="#262626" stroke-width="1.2"/>
<text transform="translate(335.68,360.60) scale(1.0,1.1)" text-anchor="middle" font-size="9" fill="#5a5a5a" stroke="#5a5a5a" stroke-width="0.45">UA</text></g>
<g><text transform="translate(370.97,202.30) scale(1.0,1.06)" font-weight="bold" font-size="14" fill="#000">F</text>
<text x="408.40" y="198.50" font-size="9.15" fill="#262626" stroke="#262626" stroke-width="0.35">Denitrification</text>
<text transform="translate(380.2,277.30) rotate(-90)" text-anchor="middle" font-size="11.5" fill="#1c1c1c" stroke="#1c1c1c" stroke-width="0.35">Proportion (%)</text>
<line x1="433.5" y1="301.0" x2="433.5" y2="315.6" stroke="#3c8f79" stroke-width="1.0"/>
<line x1="433.5" y1="330.0" x2="433.5" y2="342.0" stroke="#3c8f79" stroke-width="1.0"/>
<rect x="417.8" y="315.6" width="31.4" height="14.4" fill="#1b9e7e" fill-opacity="0.4" stroke="#3c8f79" stroke-width="0.9" stroke-opacity="0.85"/>
<line x1="417.8" y1="324.7" x2="449.2" y2="324.7" stroke="#1b9e7e" stroke-width="2.2"/>
<circle cx="432.5" cy="301.0" r="1.85" fill="#1b9e7e" fill-opacity="0.92"/>
<circle cx="440.6" cy="305.1" r="1.85" fill="#1b9e7e" fill-opacity="0.92"/>
<circle cx="431.1" cy="307.3" r="1.85" fill="#1b9e7e" fill-opacity="0.92"/>
<circle cx="437.5" cy="309.9" r="1.85" fill="#1b9e7e" fill-opacity="0.92"/>
<circle cx="429.0" cy="310.8" r="1.85" fill="#1b9e7e" fill-opacity="0.92"/>
<circle cx="427.8" cy="313.4" r="1.85" fill="#1b9e7e" fill-opacity="0.92"/>
<circle cx="420.4" cy="314.4" r="1.85" fill="#1b9e7e" fill-opacity="0.92"/>
<circle cx="434.3" cy="315.6" r="1.85" fill="#1b9e7e" fill-opacity="0.92"/>
<circle cx="447.7" cy="315.2" r="1.85" fill="#1b9e7e" fill-opacity="0.92"/>
<circle cx="449.7" cy="317.6" r="1.85" fill="#1b9e7e" fill-opacity="0.92"/>
<circle cx="441.4" cy="320.3" r="1.85" fill="#1b9e7e" fill-opacity="0.92"/>
<circle cx="443.2" cy="321.1" r="1.85" fill="#1b9e7e" fill-opacity="0.92"/>
<circle cx="446.1" cy="323.5" r="1.85" fill="#1b9e7e" fill-opacity="0.92"/>
<circle cx="426.6" cy="329.4" r="1.85" fill="#1b9e7e" fill-opacity="0.92"/>
<circle cx="437.3" cy="329.8" r="1.85" fill="#1b9e7e" fill-opacity="0.92"/>
<circle cx="418.1" cy="332.2" r="1.85" fill="#1b9e7e" fill-opacity="0.92"/>
<circle cx="425.2" cy="331.8" r="1.85" fill="#1b9e7e" fill-opacity="0.92"/>
<circle cx="427.5" cy="335.9" r="1.85" fill="#1b9e7e" fill-opacity="0.92"/>
<circle cx="436.7" cy="336.5" r="1.85" fill="#1b9e7e" fill-opacity="0.92"/>
<circle cx="449.7" cy="333.3" r="1.85" fill="#1b9e7e" fill-opacity="0.92"/>
<circle cx="435.5" cy="342.5" r="1.85" fill="#1b9e7e" fill-opacity="0.92"/>
<circle cx="439.6" cy="330.6" r="1.85" fill="#1b9e7e" fill-opacity="0.92"/>
<circle cx="426.2" cy="324.6" r="1.85" fill="#1b9e7e" fill-opacity="0.92"/>
<circle cx="436.1" cy="330.9" r="1.85" fill="#1b9e7e" fill-opacity="0.92"/>
<circle cx="441.5" cy="326.1" r="1.85" fill="#1b9e7e" fill-opacity="0.92"/>
<circle cx="431.4" cy="327.2" r="1.85" fill="#1b9e7e" fill-opacity="0.92"/>
<circle cx="430.3" cy="325.4" r="1.85" fill="#1b9e7e" fill-opacity="0.92"/>
<circle cx="420.9" cy="324.8" r="1.85" fill="#1b9e7e" fill-opacity="0.92"/>
<circle cx="448.0" cy="323.3" r="1.85" fill="#1b9e7e" fill-opacity="0.92"/>
<circle cx="434.1" cy="328.3" r="1.85" fill="#1b9e7e" fill-opacity="0.92"/>
<circle cx="444.9" cy="324.2" r="1.85" fill="#1b9e7e" fill-opacity="0.92"/>
<circle cx="427.1" cy="324.5" r="1.85" fill="#1b9e7e" fill-opacity="0.92"/>
<circle cx="431.0" cy="326.5" r="1.85" fill="#1b9e7e" fill-opacity="0.92"/>
<circle cx="447.6" cy="330.5" r="1.85" fill="#1b9e7e" fill-opacity="0.92"/>
<circle cx="445.2" cy="322.2" r="1.85" fill="#1b9e7e" fill-opacity="0.92"/>
<circle cx="420.0" cy="329.1" r="1.85" fill="#1b9e7e" fill-opacity="0.92"/>
<text x="433.52" y="296.45" text-anchor="middle" font-size="12" fill="#1a1a1a" stroke="#1a1a1a" stroke-width="0.35">b</text>
<line x1="475.4" y1="311.7" x2="475.4" y2="320.5" stroke="#4f80a8" stroke-width="1.0"/>
<line x1="475.4" y1="327.4" x2="475.4" y2="337.7" stroke="#4f80a8" stroke-width="1.0"/>
<rect x="459.7" y="320.5" width="31.4" height="6.9" fill="#1f72b8" fill-opacity="0.4" stroke="#4f80a8" stroke-width="0.9" stroke-opacity="0.85"/>
<line x1="459.7" y1="324.1" x2="491.1" y2="324.1" stroke="#1f72b8" stroke-width="2.2"/>
<circle cx="469.9" cy="290.9" r="1.85" fill="#1f72b8" fill-opacity="0.92"/>
<circle cx="467.8" cy="295.1" r="1.85" fill="#1f72b8" fill-opacity="0.92"/>
<circle cx="471.9" cy="296.3" r="1.85" fill="#1f72b8" fill-opacity="0.92"/>
<circle cx="463.6" cy="312.0" r="1.85" fill="#1f72b8" fill-opacity="0.92"/>
<circle cx="483.8" cy="311.3" r="1.85" fill="#1f72b8" fill-opacity="0.92"/>
<circle cx="479.6" cy="317.0" r="1.85" fill="#1f72b8" fill-opacity="0.92"/>
<circle cx="481.8" cy="319.4" r="1.85" fill="#1f72b8" fill-opacity="0.92"/>
<circle cx="473.7" cy="319.4" r="1.85" fill="#1f72b8" fill-opacity="0.92"/>
<circle cx="460.1" cy="326.5" r="1.85" fill="#1f72b8" fill-opacity="0.92"/>
<circle cx="474.9" cy="324.1" r="1.85" fill="#1f72b8" fill-opacity="0.92"/>
<circle cx="478.4" cy="330.0" r="1.85" fill="#1f72b8" fill-opacity="0.92"/>
<circle cx="471.3" cy="332.4" r="1.85" fill="#1f72b8" fill-opacity="0.92"/>
<circle cx="473.7" cy="332.4" r="1.85" fill="#1f72b8" fill-opacity="0.92"/>
<circle cx="471.9" cy="335.4" r="1.85" fill="#1f72b8" fill-opacity="0.92"/>
<circle cx="487.9" cy="333.3" r="1.85" fill="#1f72b8" fill-opacity="0.92"/>
<circle cx="489.1" cy="335.7" r="1.85" fill="#1f72b8" fill-opacity="0.92"/>
<circle cx="482.9" cy="338.3" r="1.85" fill="#1f72b8" fill-opacity="0.92"/>
<circle cx="487.8" cy="324.3" r="1.85" fill="#1f72b8" fill-opacity="0.92"/>
<circle cx="478.2" cy="320.0" r="1.85" fill="#1f72b8" fill-opacity="0.92"/>
<circle cx="472.1" cy="328.3" r="1.85" fill="#1f72b8" fill-opacity="0.92"/>
<circle cx="485.6" cy="327.7" r="1.85" fill="#1f72b8" fill-opacity="0.92"/>
<circle cx="490.1" cy="322.2" r="1.85" fill="#1f72b8" fill-opacity="0.92"/>
<circle cx="463.4" cy="321.4" r="1.85" fill="#1f72b8" fill-opacity="0.92"/>
<circle cx="476.2" cy="326.1" r="1.85" fill="#1f72b8" fill-opacity="0.92"/>
<circle cx="489.2" cy="326.5" r="1.85" fill="#1f72b8" fill-opacity="0.92"/>
<circle cx="480.1" cy="326.9" r="1.85" fill="#1f72b8" fill-opacity="0.92"/>
<circle cx="474.2" cy="325.0" r="1.85" fill="#1f72b8" fill-opacity="0.92"/>
<circle cx="461.2" cy="327.0" r="1.85" fill="#1f72b8" fill-opacity="0.92"/>
<circle cx="467.2" cy="328.3" r="1.85" fill="#1f72b8" fill-opacity="0.92"/>
<circle cx="480.0" cy="322.7" r="1.85" fill="#1f72b8" fill-opacity="0.92"/>
<circle cx="464.0" cy="322.3" r="1.85" fill="#1f72b8" fill-opacity="0.92"/>
<circle cx="479.7" cy="326.3" r="1.85" fill="#1f72b8" fill-opacity="0.92"/>
<circle cx="463.5" cy="320.6" r="1.85" fill="#1f72b8" fill-opacity="0.92"/>
<circle cx="476.3" cy="325.2" r="1.85" fill="#1f72b8" fill-opacity="0.92"/>
<circle cx="472.0" cy="322.0" r="1.85" fill="#1f72b8" fill-opacity="0.92"/>
<circle cx="478.6" cy="320.1" r="1.85" fill="#1f72b8" fill-opacity="0.92"/>
<circle cx="469.3" cy="324.1" r="1.85" fill="#1f72b8" fill-opacity="0.92"/>
<circle cx="489.7" cy="325.8" r="1.85" fill="#1f72b8" fill-opacity="0.92"/>
<circle cx="487.4" cy="324.3" r="1.85" fill="#1f72b8" fill-opacity="0.92"/>
<circle cx="467.3" cy="322.2" r="1.85" fill="#1f72b8" fill-opacity="0.92"/>
<circle cx="489.8" cy="326.3" r="1.85" fill="#1f72b8" fill-opacity="0.92"/>
<circle cx="469.5" cy="320.2" r="1.85" fill="#1f72b8" fill-opacity="0.92"/>
<circle cx="475.4" cy="326.1" r="1.85" fill="#1f72b8" fill-opacity="0.92"/>
<circle cx="473.0" cy="322.3" r="1.85" fill="#1f72b8" fill-opacity="0.92"/>
<circle cx="480.7" cy="328.3" r="1.85" fill="#1f72b8" fill-opacity="0.92"/>
<circle cx="467.0" cy="320.3" r="1.85" fill="#1f72b8" fill-opacity="0.92"/>
<circle cx="470.5" cy="323.8" r="1.85" fill="#1f72b8" fill-opacity="0.92"/>
<circle cx="481.2" cy="321.8" r="1.85" fill="#1f72b8" fill-opacity="0.92"/>
<circle cx="484.7" cy="326.7" r="1.85" fill="#1f72b8" fill-opacity="0.92"/>
<text x="475.40" y="306.75" text-anchor="middle" font-size="12" fill="#1a1a1a" stroke="#1a1a1a" stroke-width="0.35">b</text>
<line x1="517.3" y1="290.5" x2="517.3" y2="308.3" stroke="#d27a82" stroke-width="1.0"/>
<line x1="517.3" y1="320.4" x2="517.3" y2="337.3" stroke="#d27a82" stroke-width="1.0"/>
<rect x="501.6" y="308.3" width="31.4" height="12.1" fill="#e44c44" fill-opacity="0.4" stroke="#d27a82" stroke-width="0.9" stroke-opacity="0.85"/>
<line x1="501.6" y1="315.3" x2="533.0" y2="315.3" stroke="#e44c44" stroke-width="2.2"/>
<circle cx="514.5" cy="212.6" r="1.85" fill="#e44c44" fill-opacity="0.92"/>
<circle cx="524.9" cy="257.4" r="1.85" fill="#e44c44" fill-opacity="0.92"/>
<circle cx="512.3" cy="278.0" r="1.85" fill="#e44c44" fill-opacity="0.92"/>
<circle cx="505.5" cy="283.9" r="1.85" fill="#e44c44" fill-opacity="0.92"/>
<circle cx="523.5" cy="285.4" r="1.85" fill="#e44c44" fill-opacity="0.92"/>
<circle cx="522.0" cy="290.5" r="1.85" fill="#e44c44" fill-opacity="0.92"/>
<circle cx="502.0" cy="294.1" r="1.85" fill="#e44c44" fill-opacity="0.92"/>
<circle cx="517.7" cy="305.1" r="1.85" fill="#e44c44" fill-opacity="0.92"/>
<circle cx="518.4" cy="308.3" r="1.85" fill="#e44c44" fill-opacity="0.92"/>
<circle cx="503.5" cy="309.2" r="1.85" fill="#e44c44" fill-opacity="0.92"/>
<circle cx="525.7" cy="308.7" r="1.85" fill="#e44c44" fill-opacity="0.92"/>
<circle cx="506.0" cy="313.1" r="1.85" fill="#e44c44" fill-opacity="0.92"/>
<circle cx="512.5" cy="312.4" r="1.85" fill="#e44c44" fill-opacity="0.92"/>
<circle cx="533.0" cy="312.7" r="1.85" fill="#e44c44" fill-opacity="0.92"/>
<circle cx="504.1" cy="316.1" r="1.85" fill="#e44c44" fill-opacity="0.92"/>
<circle cx="527.9" cy="313.9" r="1.85" fill="#e44c44" fill-opacity="0.92"/>
<circle cx="513.3" cy="321.2" r="1.85" fill="#e44c44" fill-opacity="0.92"/>
<circle cx="521.0" cy="321.5" r="1.85" fill="#e44c44" fill-opacity="0.92"/>
<circle cx="502.3" cy="324.4" r="1.85" fill="#e44c44" fill-opacity="0.92"/>
<circle cx="510.4" cy="328.2" r="1.85" fill="#e44c44" fill-opacity="0.92"/>
<circle cx="525.4" cy="326.7" r="1.85" fill="#e44c44" fill-opacity="0.92"/>
<circle cx="528.9" cy="325.8" r="1.85" fill="#e44c44" fill-opacity="0.92"/>
<circle cx="529.4" cy="330.2" r="1.85" fill="#e44c44" fill-opacity="0.92"/>
<circle cx="528.9" cy="337.3" r="1.85" fill="#e44c44" fill-opacity="0.92"/>
<circle cx="516.9" cy="319.7" r="1.85" fill="#e44c44" fill-opacity="0.92"/>
<circle cx="517.7" cy="311.5" r="1.85" fill="#e44c44" fill-opacity="0.92"/>
<circle cx="532.1" cy="312.7" r="1.85" fill="#e44c44" fill-opacity="0.92"/>
<circle cx="527.4" cy="311.8" r="1.85" fill="#e44c44" fill-opacity="0.92"/>
<circle cx="508.9" cy="318.1" r="1.85" fill="#e44c44" fill-opacity="0.92"/>
<circle cx="511.1" cy="320.4" r="1.85" fill="#e44c44" fill-opacity="0.92"/>
<circle cx="517.4" cy="311.2" r="1.85" fill="#e44c44" fill-opacity="0.92"/>
<circle cx="508.9" cy="314.0" r="1.85" fill="#e44c44" fill-opacity="0.92"/>
<circle cx="522.6" cy="320.4" r="1.85" fill="#e44c44" fill-opacity="0.92"/>
<circle cx="506.5" cy="313.7" r="1.85" fill="#e44c44" fill-opacity="0.92"/>
<circle cx="508.6" cy="320.7" r="1.85" fill="#e44c44" fill-opacity="0.92"/>
<text x="517.27" y="285.25" text-anchor="middle" font-size="12" fill="#1a1a1a" stroke="#1a1a1a" stroke-width="0.35">a</text>
<path d="M408.4,205.9 V348.5 H542.4" fill="none" stroke="#262626" stroke-width="1.7"/>
<line x1="405.4" y1="341.9" x2="408.4" y2="341.9" stroke="#262626" stroke-width="1.2"/>
<text transform="translate(403.80,345.60) scale(1.0,1.1)" text-anchor="end" font-size="9" fill="#666666" stroke="#666666" stroke-width="0.5">0.00</text>
<line x1="405.4" y1="311.5" x2="408.4" y2="311.5" stroke="#262626" stroke-width="1.2"/>
<text transform="translate(403.80,315.20) scale(1.0,1.1)" text-anchor="end" font-size="9" fill="#666666" stroke="#666666" stroke-width="0.5">0.25</text>
<line x1="405.4" y1="281.0" x2="408.4" y2="281.0" stroke="#262626" stroke-width="1.2"/>
<text transform="translate(403.80,284.70) scale(1.0,1.1)" text-anchor="end" font-size="9" fill="#666666" stroke="#666666" stroke-width="0.5">0.50</text>
<line x1="405.4" y1="250.4" x2="408.4" y2="250.4" stroke="#262626" stroke-width="1.2"/>
<text transform="translate(403.80,254.10) scale(1.0,1.1)" text-anchor="end" font-size="9" fill="#666666" stroke="#666666" stroke-width="0.5">0.75</text>
<line x1="405.4" y1="219.8" x2="408.4" y2="219.8" stroke="#262626" stroke-width="1.2"/>
<text transform="translate(403.80,223.50) scale(1.0,1.1)" text-anchor="end" font-size="9" fill="#666666" stroke="#666666" stroke-width="0.5">1.00</text>
<line x1="433.5" y1="348.5" x2="433.5" y2="351.5" stroke="#262626" stroke-width="1.2"/>
<text transform="translate(433.52,360.60) scale(1.0,1.1)" text-anchor="middle" font-size="9" fill="#5a5a5a" stroke="#5a5a5a" stroke-width="0.45">SNP</text>
<line x1="475.4" y1="348.5" x2="475.4" y2="351.5" stroke="#262626" stroke-width="1.2"/>
<text transform="translate(475.40,360.60) scale(1.0,1.1)" text-anchor="middle" font-size="9" fill="#5a5a5a" stroke="#5a5a5a" stroke-width="0.45">TH</text>
<line x1="517.3" y1="348.5" x2="517.3" y2="351.5" stroke="#262626" stroke-width="1.2"/>
<text transform="translate(517.27,360.60) scale(1.0,1.1)" text-anchor="middle" font-size="9" fill="#5a5a5a" stroke="#5a5a5a" stroke-width="0.45">UA</text></g>
<g><text transform="translate(9.45,383.60) scale(1.0,1.06)" font-weight="bold" font-size="14" fill="#000">G</text>
<text x="45.50" y="380.00" font-size="9.15" fill="#262626" stroke="#262626" stroke-width="0.35">Arbuscular mycorrhizal fungi</text>
<text transform="translate(17.4,458.80) rotate(-90)" text-anchor="middle" font-size="11.5" fill="#1c1c1c" stroke="#1c1c1c" stroke-width="0.35">Proportion (%)</text>
<line x1="70.6" y1="499.1" x2="70.6" y2="513.1" stroke="#3c8f79" stroke-width="1.0"/>
<line x1="70.6" y1="522.3" x2="70.6" y2="524.0" stroke="#3c8f79" stroke-width="1.0"/>
<rect x="54.9" y="513.1" width="31.4" height="9.2" fill="#1b9e7e" fill-opacity="0.4" stroke="#3c8f79" stroke-width="0.9" stroke-opacity="0.85"/>
<line x1="54.9" y1="519.9" x2="86.3" y2="519.9" stroke="#1b9e7e" stroke-width="2.2"/>
<circle cx="60.0" cy="435.5" r="1.85" fill="#1b9e7e" fill-opacity="0.92"/>
<circle cx="67.5" cy="482.7" r="1.85" fill="#1b9e7e" fill-opacity="0.92"/>
<circle cx="84.1" cy="489.8" r="1.85" fill="#1b9e7e" fill-opacity="0.92"/>
<circle cx="72.3" cy="499.1" r="1.85" fill="#1b9e7e" fill-opacity="0.92"/>
<circle cx="86.3" cy="501.3" r="1.85" fill="#1b9e7e" fill-opacity="0.92"/>
<circle cx="73.7" cy="507.3" r="1.85" fill="#1b9e7e" fill-opacity="0.92"/>
<circle cx="54.8" cy="512.0" r="1.85" fill="#1b9e7e" fill-opacity="0.92"/>
<circle cx="75.4" cy="513.3" r="1.85" fill="#1b9e7e" fill-opacity="0.92"/>
<circle cx="82.1" cy="513.3" r="1.85" fill="#1b9e7e" fill-opacity="0.92"/>
<circle cx="70.4" cy="516.6" r="1.85" fill="#1b9e7e" fill-opacity="0.92"/>
<circle cx="58.0" cy="518.8" r="1.85" fill="#1b9e7e" fill-opacity="0.92"/>
<circle cx="55.1" cy="520.9" r="1.85" fill="#1b9e7e" fill-opacity="0.92"/>
<circle cx="84.4" cy="523.8" r="1.85" fill="#1b9e7e" fill-opacity="0.92"/>
<circle cx="78.6" cy="524.5" r="1.85" fill="#1b9e7e" fill-opacity="0.92"/>
<circle cx="85.6" cy="520.5" r="1.85" fill="#1b9e7e" fill-opacity="0.92"/>
<circle cx="59.5" cy="524.1" r="1.85" fill="#1b9e7e" fill-opacity="0.92"/>
<circle cx="79.1" cy="518.7" r="1.85" fill="#1b9e7e" fill-opacity="0.92"/>
<circle cx="76.3" cy="520.8" r="1.85" fill="#1b9e7e" fill-opacity="0.92"/>
<circle cx="66.1" cy="520.5" r="1.85" fill="#1b9e7e" fill-opacity="0.92"/>
<circle cx="58.9" cy="518.5" r="1.85" fill="#1b9e7e" fill-opacity="0.92"/>
<circle cx="62.8" cy="520.6" r="1.85" fill="#1b9e7e" fill-opacity="0.92"/>
<circle cx="86.4" cy="519.2" r="1.85" fill="#1b9e7e" fill-opacity="0.92"/>
<circle cx="86.7" cy="519.7" r="1.85" fill="#1b9e7e" fill-opacity="0.92"/>
<circle cx="65.5" cy="523.4" r="1.85" fill="#1b9e7e" fill-opacity="0.92"/>
<circle cx="81.8" cy="521.1" r="1.85" fill="#1b9e7e" fill-opacity="0.92"/>
<circle cx="54.7" cy="521.3" r="1.85" fill="#1b9e7e" fill-opacity="0.92"/>
<circle cx="66.0" cy="524.0" r="1.85" fill="#1b9e7e" fill-opacity="0.92"/>
<circle cx="59.8" cy="520.7" r="1.85" fill="#1b9e7e" fill-opacity="0.92"/>
<circle cx="84.4" cy="518.7" r="1.85" fill="#1b9e7e" fill-opacity="0.92"/>
<circle cx="67.4" cy="523.4" r="1.85" fill="#1b9e7e" fill-opacity="0.92"/>
<circle cx="79.8" cy="518.7" r="1.85" fill="#1b9e7e" fill-opacity="0.92"/>
<circle cx="54.2" cy="518.9" r="1.85" fill="#1b9e7e" fill-opacity="0.92"/>
<circle cx="85.2" cy="520.0" r="1.85" fill="#1b9e7e" fill-opacity="0.92"/>
<circle cx="79.2" cy="523.9" r="1.85" fill="#1b9e7e" fill-opacity="0.92"/>
<circle cx="64.9" cy="520.1" r="1.85" fill="#1b9e7e" fill-opacity="0.92"/>
<circle cx="86.5" cy="522.2" r="1.85" fill="#1b9e7e" fill-opacity="0.92"/>
<circle cx="62.2" cy="522.8" r="1.85" fill="#1b9e7e" fill-opacity="0.92"/>
<circle cx="64.1" cy="520.2" r="1.85" fill="#1b9e7e" fill-opacity="0.92"/>
<circle cx="53.1" cy="523.0" r="1.85" fill="#1b9e7e" fill-opacity="0.92"/>
<circle cx="85.1" cy="522.3" r="1.85" fill="#1b9e7e" fill-opacity="0.92"/>
<circle cx="86.0" cy="518.6" r="1.85" fill="#1b9e7e" fill-opacity="0.92"/>
<circle cx="61.2" cy="521.4" r="1.85" fill="#1b9e7e" fill-opacity="0.92"/>
<circle cx="86.5" cy="524.2" r="1.85" fill="#1b9e7e" fill-opacity="0.92"/>
<circle cx="66.5" cy="520.0" r="1.85" fill="#1b9e7e" fill-opacity="0.92"/>
<circle cx="68.0" cy="521.5" r="1.85" fill="#1b9e7e" fill-opacity="0.92"/>
<circle cx="85.5" cy="519.6" r="1.85" fill="#1b9e7e" fill-opacity="0.92"/>
<circle cx="81.1" cy="522.9" r="1.85" fill="#1b9e7e" fill-opacity="0.92"/>
<circle cx="81.8" cy="523.1" r="1.85" fill="#1b9e7e" fill-opacity="0.92"/>
<circle cx="74.3" cy="520.5" r="1.85" fill="#1b9e7e" fill-opacity="0.92"/>
<circle cx="64.2" cy="520.7" r="1.85" fill="#1b9e7e" fill-opacity="0.92"/>
<text x="70.62" y="494.55" text-anchor="middle" font-size="12" fill="#1a1a1a" stroke="#1a1a1a" stroke-width="0.35">a</text>
<line x1="112.5" y1="459.0" x2="112.5" y2="496.0" stroke="#4f80a8" stroke-width="1.0"/>
<line x1="112.5" y1="522.3" x2="112.5" y2="524.0" stroke="#4f80a8" stroke-width="1.0"/>
<rect x="96.8" y="496.0" width="31.4" height="26.3" fill="#1f72b8" fill-opacity="0.4" stroke="#4f80a8" stroke-width="0.9" stroke-opacity="0.85"/>
<line x1="96.8" y1="519.8" x2="128.2" y2="519.8" stroke="#1f72b8" stroke-width="2.2"/>
<circle cx="114.3" cy="393.9" r="1.85" fill="#1f72b8" fill-opacity="0.92"/>
<circle cx="118.7" cy="397.4" r="1.85" fill="#1f72b8" fill-opacity="0.92"/>
<circle cx="114.9" cy="401.6" r="1.85" fill="#1f72b8" fill-opacity="0.92"/>
<circle cx="124.6" cy="432.4" r="1.85" fill="#1f72b8" fill-opacity="0.92"/>
<circle cx="120.4" cy="451.3" r="1.85" fill="#1f72b8" fill-opacity="0.92"/>
<circle cx="102.3" cy="459.5" r="1.85" fill="#1f72b8" fill-opacity="0.92"/>
<circle cx="99.5" cy="493.0" r="1.85" fill="#1f72b8" fill-opacity="0.92"/>
<circle cx="122.1" cy="491.9" r="1.85" fill="#1f72b8" fill-opacity="0.92"/>
<circle cx="119.6" cy="496.3" r="1.85" fill="#1f72b8" fill-opacity="0.92"/>
<circle cx="110.6" cy="510.8" r="1.85" fill="#1f72b8" fill-opacity="0.92"/>
<circle cx="125.9" cy="514.9" r="1.85" fill="#1f72b8" fill-opacity="0.92"/>
<circle cx="121.2" cy="518.5" r="1.85" fill="#1f72b8" fill-opacity="0.92"/>
<circle cx="103.1" cy="522.9" r="1.85" fill="#1f72b8" fill-opacity="0.92"/>
<circle cx="104.7" cy="518.4" r="1.85" fill="#1f72b8" fill-opacity="0.92"/>
<circle cx="98.0" cy="521.6" r="1.85" fill="#1f72b8" fill-opacity="0.92"/>
<circle cx="107.1" cy="524.4" r="1.85" fill="#1f72b8" fill-opacity="0.92"/>
<circle cx="124.4" cy="524.4" r="1.85" fill="#1f72b8" fill-opacity="0.92"/>
<circle cx="105.2" cy="518.5" r="1.85" fill="#1f72b8" fill-opacity="0.92"/>
<circle cx="100.0" cy="521.2" r="1.85" fill="#1f72b8" fill-opacity="0.92"/>
<circle cx="119.0" cy="520.9" r="1.85" fill="#1f72b8" fill-opacity="0.92"/>
<circle cx="104.3" cy="520.7" r="1.85" fill="#1f72b8" fill-opacity="0.92"/>
<circle cx="116.2" cy="522.4" r="1.85" fill="#1f72b8" fill-opacity="0.92"/>
<circle cx="120.2" cy="523.5" r="1.85" fill="#1f72b8" fill-opacity="0.92"/>
<circle cx="117.6" cy="518.8" r="1.85" fill="#1f72b8" fill-opacity="0.92"/>
<circle cx="123.1" cy="519.9" r="1.85" fill="#1f72b8" fill-opacity="0.92"/>
<circle cx="114.6" cy="520.4" r="1.85" fill="#1f72b8" fill-opacity="0.92"/>
<circle cx="119.9" cy="519.3" r="1.85" fill="#1f72b8" fill-opacity="0.92"/>
<circle cx="104.7" cy="519.6" r="1.85" fill="#1f72b8" fill-opacity="0.92"/>
<circle cx="101.8" cy="523.7" r="1.85" fill="#1f72b8" fill-opacity="0.92"/>
<circle cx="114.9" cy="520.1" r="1.85" fill="#1f72b8" fill-opacity="0.92"/>
<circle cx="109.3" cy="524.5" r="1.85" fill="#1f72b8" fill-opacity="0.92"/>
<circle cx="112.7" cy="519.5" r="1.85" fill="#1f72b8" fill-opacity="0.92"/>
<circle cx="122.1" cy="522.2" r="1.85" fill="#1f72b8" fill-opacity="0.92"/>
<circle cx="127.7" cy="518.7" r="1.85" fill="#1f72b8" fill-opacity="0.92"/>
<circle cx="111.7" cy="523.3" r="1.85" fill="#1f72b8" fill-opacity="0.92"/>
<circle cx="123.1" cy="523.9" r="1.85" fill="#1f72b8" fill-opacity="0.92"/>
<circle cx="98.3" cy="519.9" r="1.85" fill="#1f72b8" fill-opacity="0.92"/>
<circle cx="100.7" cy="519.2" r="1.85" fill="#1f72b8" fill-opacity="0.92"/>
<circle cx="127.2" cy="521.8" r="1.85" fill="#1f72b8" fill-opacity="0.92"/>
<circle cx="125.8" cy="520.4" r="1.85" fill="#1f72b8" fill-opacity="0.92"/>
<circle cx="123.8" cy="520.9" r="1.85" fill="#1f72b8" fill-opacity="0.92"/>
<circle cx="105.1" cy="523.1" r="1.85" fill="#1f72b8" fill-opacity="0.92"/>
<circle cx="126.3" cy="518.7" r="1.85" fill="#1f72b8" fill-opacity="0.92"/>
<circle cx="115.5" cy="522.0" r="1.85" fill="#1f72b8" fill-opacity="0.92"/>
<circle cx="103.7" cy="520.4" r="1.85" fill="#1f72b8" fill-opacity="0.92"/>
<text x="112.50" y="454.75" text-anchor="middle" font-size="12" fill="#1a1a1a" stroke="#1a1a1a" stroke-width="0.35">a</text>
<line x1="154.4" y1="522.5" x2="154.4" y2="523.0" stroke="#d27a82" stroke-width="1.0"/>
<line x1="154.4" y1="524.1" x2="154.4" y2="524.2" stroke="#d27a82" stroke-width="1.0"/>
<rect x="138.7" y="523.0" width="31.4" height="1.1" fill="#e44c44" fill-opacity="0.4" stroke="#d27a82" stroke-width="0.9" stroke-opacity="0.85"/>
<line x1="138.7" y1="523.8" x2="170.1" y2="523.8" stroke="#e44c44" stroke-width="2.2"/>
<rect x="137.5" y="521.6" width="33.0" height="3.0" rx="1.5" fill="#e44c44"/>
<circle cx="157.1" cy="479.9" r="1.85" fill="#e44c44" fill-opacity="0.92"/>
<circle cx="140.7" cy="506.6" r="1.85" fill="#e44c44" fill-opacity="0.92"/>
<circle cx="155.8" cy="505.2" r="1.85" fill="#e44c44" fill-opacity="0.92"/>
<circle cx="159.9" cy="505.2" r="1.85" fill="#e44c44" fill-opacity="0.92"/>
<circle cx="147.5" cy="512.7" r="1.85" fill="#e44c44" fill-opacity="0.92"/>
<circle cx="145.3" cy="516.2" r="1.85" fill="#e44c44" fill-opacity="0.92"/>
<circle cx="158.8" cy="518.2" r="1.85" fill="#e44c44" fill-opacity="0.92"/>
<circle cx="166.7" cy="516.2" r="1.85" fill="#e44c44" fill-opacity="0.92"/>
<circle cx="142.5" cy="522.4" r="1.85" fill="#e44c44" fill-opacity="0.92"/>
<circle cx="146.2" cy="523.3" r="1.85" fill="#e44c44" fill-opacity="0.92"/>
<circle cx="158.9" cy="522.4" r="1.85" fill="#e44c44" fill-opacity="0.92"/>
<circle cx="138.4" cy="522.7" r="1.85" fill="#e44c44" fill-opacity="0.92"/>
<circle cx="159.7" cy="522.4" r="1.85" fill="#e44c44" fill-opacity="0.92"/>
<circle cx="148.0" cy="522.4" r="1.85" fill="#e44c44" fill-opacity="0.92"/>
<circle cx="163.4" cy="523.2" r="1.85" fill="#e44c44" fill-opacity="0.92"/>
<circle cx="140.0" cy="522.2" r="1.85" fill="#e44c44" fill-opacity="0.92"/>
<circle cx="150.6" cy="523.2" r="1.85" fill="#e44c44" fill-opacity="0.92"/>
<circle cx="158.5" cy="522.2" r="1.85" fill="#e44c44" fill-opacity="0.92"/>
<circle cx="143.2" cy="523.5" r="1.85" fill="#e44c44" fill-opacity="0.92"/>
<circle cx="151.1" cy="522.6" r="1.85" fill="#e44c44" fill-opacity="0.92"/>
<circle cx="147.8" cy="524.1" r="1.85" fill="#e44c44" fill-opacity="0.92"/>
<circle cx="148.0" cy="523.2" r="1.85" fill="#e44c44" fill-opacity="0.92"/>
<circle cx="149.4" cy="522.9" r="1.85" fill="#e44c44" fill-opacity="0.92"/>
<circle cx="165.7" cy="524.2" r="1.85" fill="#e44c44" fill-opacity="0.92"/>
<circle cx="149.6" cy="522.4" r="1.85" fill="#e44c44" fill-opacity="0.92"/>
<circle cx="161.3" cy="522.4" r="1.85" fill="#e44c44" fill-opacity="0.92"/>
<circle cx="138.2" cy="524.0" r="1.85" fill="#e44c44" fill-opacity="0.92"/>
<circle cx="151.6" cy="523.8" r="1.85" fill="#e44c44" fill-opacity="0.92"/>
<circle cx="151.0" cy="523.9" r="1.85" fill="#e44c44" fill-opacity="0.92"/>
<circle cx="152.7" cy="522.4" r="1.85" fill="#e44c44" fill-opacity="0.92"/>
<circle cx="138.5" cy="523.2" r="1.85" fill="#e44c44" fill-opacity="0.92"/>
<circle cx="158.5" cy="524.0" r="1.85" fill="#e44c44" fill-opacity="0.92"/>
<circle cx="140.8" cy="523.4" r="1.85" fill="#e44c44" fill-opacity="0.92"/>
<circle cx="149.9" cy="523.1" r="1.85" fill="#e44c44" fill-opacity="0.92"/>
<circle cx="142.7" cy="522.6" r="1.85" fill="#e44c44" fill-opacity="0.92"/>
<circle cx="154.7" cy="524.0" r="1.85" fill="#e44c44" fill-opacity="0.92"/>
<circle cx="141.5" cy="523.1" r="1.85" fill="#e44c44" fill-opacity="0.92"/>
<circle cx="163.8" cy="524.1" r="1.85" fill="#e44c44" fill-opacity="0.92"/>
<circle cx="144.3" cy="522.3" r="1.85" fill="#e44c44" fill-opacity="0.92"/>
<circle cx="168.2" cy="524.1" r="1.85" fill="#e44c44" fill-opacity="0.92"/>
<circle cx="153.4" cy="522.1" r="1.85" fill="#e44c44" fill-opacity="0.92"/>
<circle cx="167.6" cy="522.9" r="1.85" fill="#e44c44" fill-opacity="0.92"/>
<circle cx="166.9" cy="523.4" r="1.85" fill="#e44c44" fill-opacity="0.92"/>
<circle cx="164.4" cy="522.4" r="1.85" fill="#e44c44" fill-opacity="0.92"/>
<circle cx="163.1" cy="522.5" r="1.85" fill="#e44c44" fill-opacity="0.92"/>
<circle cx="150.9" cy="523.9" r="1.85" fill="#e44c44" fill-opacity="0.92"/>
<circle cx="164.5" cy="522.4" r="1.85" fill="#e44c44" fill-opacity="0.92"/>
<circle cx="145.0" cy="522.9" r="1.85" fill="#e44c44" fill-opacity="0.92"/>
<text x="154.38" y="517.35" text-anchor="middle" font-size="12" fill="#1a1a1a" stroke="#1a1a1a" stroke-width="0.35">b</text>
<path d="M45.5,387.5 V529.9 H179.5" fill="none" stroke="#262626" stroke-width="1.7"/>
<line x1="42.5" y1="524.1" x2="45.5" y2="524.1" stroke="#262626" stroke-width="1.2"/>
<text transform="translate(40.90,527.80) scale(1.0,1.1)" text-anchor="end" font-size="9" fill="#666666" stroke="#666666" stroke-width="0.5">0</text>
<line x1="42.5" y1="489.7" x2="45.5" y2="489.7" stroke="#262626" stroke-width="1.2"/>
<text transform="translate(40.90,493.40) scale(1.0,1.1)" text-anchor="end" font-size="9" fill="#666666" stroke="#666666" stroke-width="0.5">1</text>
<line x1="42.5" y1="455.3" x2="45.5" y2="455.3" stroke="#262626" stroke-width="1.2"/>
<text transform="translate(40.90,459.00) scale(1.0,1.1)" text-anchor="end" font-size="9" fill="#666666" stroke="#666666" stroke-width="0.5">2</text>
<line x1="42.5" y1="420.9" x2="45.5" y2="420.9" stroke="#262626" stroke-width="1.2"/>
<text transform="translate(40.90,424.60) scale(1.0,1.1)" text-anchor="end" font-size="9" fill="#666666" stroke="#666666" stroke-width="0.5">3</text>
<line x1="70.6" y1="529.9" x2="70.6" y2="532.9" stroke="#262626" stroke-width="1.2"/>
<text transform="translate(70.62,542.00) scale(1.0,1.1)" text-anchor="middle" font-size="9" fill="#5a5a5a" stroke="#5a5a5a" stroke-width="0.45">SNP</text>
<line x1="112.5" y1="529.9" x2="112.5" y2="532.9" stroke="#262626" stroke-width="1.2"/>
<text transform="translate(112.50,542.00) scale(1.0,1.1)" text-anchor="middle" font-size="9" fill="#5a5a5a" stroke="#5a5a5a" stroke-width="0.45">TH</text>
<line x1="154.4" y1="529.9" x2="154.4" y2="532.9" stroke="#262626" stroke-width="1.2"/>
<text transform="translate(154.38,542.00) scale(1.0,1.1)" text-anchor="middle" font-size="9" fill="#5a5a5a" stroke="#5a5a5a" stroke-width="0.45">UA</text></g>
<g><text transform="translate(190.56,383.60) scale(1.0,1.06)" font-weight="bold" font-size="14" fill="#000">H</text>
<text x="226.80" y="380.00" font-size="9.15" fill="#262626" stroke="#262626" stroke-width="0.35">Soil saprotrophic fungi</text>
<text transform="translate(199.3,458.80) rotate(-90)" text-anchor="middle" font-size="11.5" fill="#1c1c1c" stroke="#1c1c1c" stroke-width="0.35">Proportion (%)</text>
<line x1="251.9" y1="501.0" x2="251.9" y2="508.0" stroke="#3c8f79" stroke-width="1.0"/>
<line x1="251.9" y1="515.6" x2="251.9" y2="520.0" stroke="#3c8f79" stroke-width="1.0"/>
<rect x="236.2" y="508.0" width="31.4" height="7.6" fill="#1b9e7e" fill-opacity="0.4" stroke="#3c8f79" stroke-width="0.9" stroke-opacity="0.85"/>
<line x1="236.2" y1="513.2" x2="267.6" y2="513.2" stroke="#1b9e7e" stroke-width="2.2"/>
<circle cx="267.2" cy="394.2" r="1.85" fill="#1b9e7e" fill-opacity="0.92"/>
<circle cx="237.3" cy="471.0" r="1.85" fill="#1b9e7e" fill-opacity="0.92"/>
<circle cx="261.6" cy="488.8" r="1.85" fill="#1b9e7e" fill-opacity="0.92"/>
<circle cx="247.5" cy="493.6" r="1.85" fill="#1b9e7e" fill-opacity="0.92"/>
<circle cx="268.8" cy="494.5" r="1.85" fill="#1b9e7e" fill-opacity="0.92"/>
<circle cx="256.8" cy="497.7" r="1.85" fill="#1b9e7e" fill-opacity="0.92"/>
<circle cx="261.6" cy="499.0" r="1.85" fill="#1b9e7e" fill-opacity="0.92"/>
<circle cx="247.2" cy="507.3" r="1.85" fill="#1b9e7e" fill-opacity="0.92"/>
<circle cx="239.6" cy="522.3" r="1.85" fill="#1b9e7e" fill-opacity="0.92"/>
<circle cx="254.0" cy="521.6" r="1.85" fill="#1b9e7e" fill-opacity="0.92"/>
<circle cx="253.1" cy="514.3" r="1.85" fill="#1b9e7e" fill-opacity="0.92"/>
<circle cx="240.8" cy="513.5" r="1.85" fill="#1b9e7e" fill-opacity="0.92"/>
<circle cx="259.5" cy="517.4" r="1.85" fill="#1b9e7e" fill-opacity="0.92"/>
<circle cx="238.3" cy="515.4" r="1.85" fill="#1b9e7e" fill-opacity="0.92"/>
<circle cx="260.5" cy="512.2" r="1.85" fill="#1b9e7e" fill-opacity="0.92"/>
<circle cx="263.0" cy="512.7" r="1.85" fill="#1b9e7e" fill-opacity="0.92"/>
<circle cx="255.6" cy="515.3" r="1.85" fill="#1b9e7e" fill-opacity="0.92"/>
<circle cx="256.4" cy="513.8" r="1.85" fill="#1b9e7e" fill-opacity="0.92"/>
<circle cx="250.0" cy="515.5" r="1.85" fill="#1b9e7e" fill-opacity="0.92"/>
<circle cx="250.2" cy="516.0" r="1.85" fill="#1b9e7e" fill-opacity="0.92"/>
<circle cx="250.9" cy="514.6" r="1.85" fill="#1b9e7e" fill-opacity="0.92"/>
<circle cx="237.7" cy="515.7" r="1.85" fill="#1b9e7e" fill-opacity="0.92"/>
<circle cx="252.2" cy="513.4" r="1.85" fill="#1b9e7e" fill-opacity="0.92"/>
<circle cx="260.7" cy="516.7" r="1.85" fill="#1b9e7e" fill-opacity="0.92"/>
<circle cx="251.2" cy="513.1" r="1.85" fill="#1b9e7e" fill-opacity="0.92"/>
<circle cx="251.7" cy="512.6" r="1.85" fill="#1b9e7e" fill-opacity="0.92"/>
<circle cx="241.0" cy="514.6" r="1.85" fill="#1b9e7e" fill-opacity="0.92"/>
<circle cx="239.8" cy="514.7" r="1.85" fill="#1b9e7e" fill-opacity="0.92"/>
<circle cx="252.8" cy="512.2" r="1.85" fill="#1b9e7e" fill-opacity="0.92"/>
<circle cx="256.7" cy="512.5" r="1.85" fill="#1b9e7e" fill-opacity="0.92"/>
<circle cx="259.7" cy="516.7" r="1.85" fill="#1b9e7e" fill-opacity="0.92"/>
<circle cx="252.9" cy="512.3" r="1.85" fill="#1b9e7e" fill-opacity="0.92"/>
<circle cx="252.6" cy="514.3" r="1.85" fill="#1b9e7e" fill-opacity="0.92"/>
<circle cx="266.5" cy="512.8" r="1.85" fill="#1b9e7e" fill-opacity="0.92"/>
<circle cx="263.6" cy="518.0" r="1.85" fill="#1b9e7e" fill-opacity="0.92"/>
<circle cx="259.7" cy="516.9" r="1.85" fill="#1b9e7e" fill-opacity="0.92"/>
<circle cx="243.0" cy="517.9" r="1.85" fill="#1b9e7e" fill-opacity="0.92"/>
<circle cx="252.2" cy="517.7" r="1.85" fill="#1b9e7e" fill-opacity="0.92"/>
<circle cx="265.4" cy="513.0" r="1.85" fill="#1b9e7e" fill-opacity="0.92"/>
<circle cx="261.4" cy="517.6" r="1.85" fill="#1b9e7e" fill-opacity="0.92"/>
<circle cx="241.7" cy="508.8" r="1.85" fill="#1b9e7e" fill-opacity="0.92"/>
<circle cx="259.7" cy="507.8" r="1.85" fill="#1b9e7e" fill-opacity="0.92"/>
<circle cx="263.3" cy="508.4" r="1.85" fill="#1b9e7e" fill-opacity="0.92"/>
<circle cx="261.2" cy="507.7" r="1.85" fill="#1b9e7e" fill-opacity="0.92"/>
<text x="251.93" y="502.35" text-anchor="middle" font-size="12" fill="#1a1a1a" stroke="#1a1a1a" stroke-width="0.35">b</text>
<line x1="293.8" y1="482.0" x2="293.8" y2="498.1" stroke="#4f80a8" stroke-width="1.0"/>
<line x1="293.8" y1="514.2" x2="293.8" y2="522.0" stroke="#4f80a8" stroke-width="1.0"/>
<rect x="278.1" y="498.1" width="31.4" height="16.1" fill="#1f72b8" fill-opacity="0.4" stroke="#4f80a8" stroke-width="0.9" stroke-opacity="0.85"/>
<line x1="278.1" y1="506.5" x2="309.5" y2="506.5" stroke="#1f72b8" stroke-width="2.2"/>
<circle cx="294.8" cy="427.6" r="1.85" fill="#1f72b8" fill-opacity="0.92"/>
<circle cx="306.3" cy="463.8" r="1.85" fill="#1f72b8" fill-opacity="0.92"/>
<circle cx="285.4" cy="469.3" r="1.85" fill="#1f72b8" fill-opacity="0.92"/>
<circle cx="300.7" cy="469.3" r="1.85" fill="#1f72b8" fill-opacity="0.92"/>
<circle cx="297.0" cy="482.0" r="1.85" fill="#1f72b8" fill-opacity="0.92"/>
<circle cx="283.9" cy="485.4" r="1.85" fill="#1f72b8" fill-opacity="0.92"/>
<circle cx="290.5" cy="485.4" r="1.85" fill="#1f72b8" fill-opacity="0.92"/>
<circle cx="291.9" cy="488.3" r="1.85" fill="#1f72b8" fill-opacity="0.92"/>
<circle cx="278.8" cy="500.6" r="1.85" fill="#1f72b8" fill-opacity="0.92"/>
<circle cx="305.1" cy="498.9" r="1.85" fill="#1f72b8" fill-opacity="0.92"/>
<circle cx="296.3" cy="502.5" r="1.85" fill="#1f72b8" fill-opacity="0.92"/>
<circle cx="278.8" cy="511.3" r="1.85" fill="#1f72b8" fill-opacity="0.92"/>
<circle cx="278.8" cy="515.0" r="1.85" fill="#1f72b8" fill-opacity="0.92"/>
<circle cx="289.0" cy="517.1" r="1.85" fill="#1f72b8" fill-opacity="0.92"/>
<circle cx="294.1" cy="516.4" r="1.85" fill="#1f72b8" fill-opacity="0.92"/>
<circle cx="307.7" cy="511.3" r="1.85" fill="#1f72b8" fill-opacity="0.92"/>
<circle cx="308.3" cy="520.1" r="1.85" fill="#1f72b8" fill-opacity="0.92"/>
<circle cx="305.1" cy="515.7" r="1.85" fill="#1f72b8" fill-opacity="0.92"/>
<circle cx="294.1" cy="512.8" r="1.85" fill="#1f72b8" fill-opacity="0.92"/>
<circle cx="285.2" cy="502.9" r="1.85" fill="#1f72b8" fill-opacity="0.92"/>
<circle cx="294.2" cy="503.8" r="1.85" fill="#1f72b8" fill-opacity="0.92"/>
<circle cx="280.1" cy="501.7" r="1.85" fill="#1f72b8" fill-opacity="0.92"/>
<circle cx="283.8" cy="513.0" r="1.85" fill="#1f72b8" fill-opacity="0.92"/>
<circle cx="299.4" cy="512.4" r="1.85" fill="#1f72b8" fill-opacity="0.92"/>
<circle cx="284.1" cy="510.8" r="1.85" fill="#1f72b8" fill-opacity="0.92"/>
<circle cx="282.5" cy="507.0" r="1.85" fill="#1f72b8" fill-opacity="0.92"/>
<circle cx="298.1" cy="504.4" r="1.85" fill="#1f72b8" fill-opacity="0.92"/>
<circle cx="305.2" cy="507.3" r="1.85" fill="#1f72b8" fill-opacity="0.92"/>
<circle cx="296.4" cy="512.2" r="1.85" fill="#1f72b8" fill-opacity="0.92"/>
<circle cx="282.1" cy="513.9" r="1.85" fill="#1f72b8" fill-opacity="0.92"/>
<circle cx="297.9" cy="504.9" r="1.85" fill="#1f72b8" fill-opacity="0.92"/>
<circle cx="302.9" cy="503.0" r="1.85" fill="#1f72b8" fill-opacity="0.92"/>
<circle cx="308.7" cy="507.7" r="1.85" fill="#1f72b8" fill-opacity="0.92"/>
<circle cx="289.8" cy="510.5" r="1.85" fill="#1f72b8" fill-opacity="0.92"/>
<text x="293.80" y="480.85" text-anchor="middle" font-size="12" fill="#1a1a1a" stroke="#1a1a1a" stroke-width="0.35">a</text>
<line x1="335.7" y1="505.9" x2="335.7" y2="509.3" stroke="#d27a82" stroke-width="1.0"/>
<line x1="335.7" y1="520.3" x2="335.7" y2="523.0" stroke="#d27a82" stroke-width="1.0"/>
<rect x="320.0" y="509.3" width="31.4" height="11.0" fill="#e44c44" fill-opacity="0.4" stroke="#d27a82" stroke-width="0.9" stroke-opacity="0.85"/>
<line x1="320.0" y1="516.2" x2="351.4" y2="516.2" stroke="#e44c44" stroke-width="2.2"/>
<circle cx="351.0" cy="473.4" r="1.85" fill="#e44c44" fill-opacity="0.92"/>
<circle cx="330.5" cy="480.3" r="1.85" fill="#e44c44" fill-opacity="0.92"/>
<circle cx="327.3" cy="491.2" r="1.85" fill="#e44c44" fill-opacity="0.92"/>
<circle cx="336.7" cy="489.0" r="1.85" fill="#e44c44" fill-opacity="0.92"/>
<circle cx="323.0" cy="504.5" r="1.85" fill="#e44c44" fill-opacity="0.92"/>
<circle cx="325.7" cy="506.6" r="1.85" fill="#e44c44" fill-opacity="0.92"/>
<circle cx="332.3" cy="508.6" r="1.85" fill="#e44c44" fill-opacity="0.92"/>
<circle cx="352.4" cy="508.6" r="1.85" fill="#e44c44" fill-opacity="0.92"/>
<circle cx="322.3" cy="523.0" r="1.85" fill="#e44c44" fill-opacity="0.92"/>
<circle cx="343.5" cy="523.7" r="1.85" fill="#e44c44" fill-opacity="0.92"/>
<circle cx="347.9" cy="523.7" r="1.85" fill="#e44c44" fill-opacity="0.92"/>
<circle cx="334.7" cy="512.1" r="1.85" fill="#e44c44" fill-opacity="0.92"/>
<circle cx="344.1" cy="510.6" r="1.85" fill="#e44c44" fill-opacity="0.92"/>
<circle cx="346.4" cy="513.0" r="1.85" fill="#e44c44" fill-opacity="0.92"/>
<circle cx="340.8" cy="521.8" r="1.85" fill="#e44c44" fill-opacity="0.92"/>
<circle cx="339.2" cy="518.0" r="1.85" fill="#e44c44" fill-opacity="0.92"/>
<circle cx="330.7" cy="510.0" r="1.85" fill="#e44c44" fill-opacity="0.92"/>
<circle cx="322.0" cy="511.8" r="1.85" fill="#e44c44" fill-opacity="0.92"/>
<circle cx="340.1" cy="515.2" r="1.85" fill="#e44c44" fill-opacity="0.92"/>
<circle cx="336.9" cy="520.7" r="1.85" fill="#e44c44" fill-opacity="0.92"/>
<circle cx="325.1" cy="512.7" r="1.85" fill="#e44c44" fill-opacity="0.92"/>
<circle cx="341.2" cy="510.3" r="1.85" fill="#e44c44" fill-opacity="0.92"/>
<circle cx="321.1" cy="514.3" r="1.85" fill="#e44c44" fill-opacity="0.92"/>
<circle cx="324.3" cy="514.3" r="1.85" fill="#e44c44" fill-opacity="0.92"/>
<circle cx="328.0" cy="517.0" r="1.85" fill="#e44c44" fill-opacity="0.92"/>
<circle cx="339.3" cy="512.5" r="1.85" fill="#e44c44" fill-opacity="0.92"/>
<circle cx="340.3" cy="515.7" r="1.85" fill="#e44c44" fill-opacity="0.92"/>
<circle cx="325.2" cy="521.2" r="1.85" fill="#e44c44" fill-opacity="0.92"/>
<circle cx="328.6" cy="511.8" r="1.85" fill="#e44c44" fill-opacity="0.92"/>
<circle cx="324.0" cy="517.7" r="1.85" fill="#e44c44" fill-opacity="0.92"/>
<circle cx="348.0" cy="519.4" r="1.85" fill="#e44c44" fill-opacity="0.92"/>
<circle cx="333.5" cy="513.2" r="1.85" fill="#e44c44" fill-opacity="0.92"/>
<circle cx="321.4" cy="517.7" r="1.85" fill="#e44c44" fill-opacity="0.92"/>
<circle cx="338.4" cy="514.2" r="1.85" fill="#e44c44" fill-opacity="0.92"/>
<circle cx="341.0" cy="515.3" r="1.85" fill="#e44c44" fill-opacity="0.92"/>
<circle cx="350.1" cy="518.8" r="1.85" fill="#e44c44" fill-opacity="0.92"/>
<circle cx="328.7" cy="520.8" r="1.85" fill="#e44c44" fill-opacity="0.92"/>
<circle cx="322.4" cy="516.4" r="1.85" fill="#e44c44" fill-opacity="0.92"/>
<circle cx="333.6" cy="512.9" r="1.85" fill="#e44c44" fill-opacity="0.92"/>
<circle cx="322.8" cy="519.3" r="1.85" fill="#e44c44" fill-opacity="0.92"/>
<circle cx="321.4" cy="516.6" r="1.85" fill="#e44c44" fill-opacity="0.92"/>
<text x="335.68" y="500.25" text-anchor="middle" font-size="12" fill="#1a1a1a" stroke="#1a1a1a" stroke-width="0.35">c</text>
<path d="M226.8,387.5 V529.9 H360.8" fill="none" stroke="#262626" stroke-width="1.7"/>
<line x1="223.8" y1="465.2" x2="226.8" y2="465.2" stroke="#262626" stroke-width="1.2"/>
<text transform="translate(222.20,468.90) scale(1.0,1.1)" text-anchor="end" font-size="9" fill="#666666" stroke="#666666" stroke-width="0.5">10</text>
<line x1="223.8" y1="441.4" x2="226.8" y2="441.4" stroke="#262626" stroke-width="1.2"/>
<text transform="translate(222.20,445.10) scale(1.0,1.1)" text-anchor="end" font-size="9" fill="#666666" stroke="#666666" stroke-width="0.5">20</text>
<line x1="223.8" y1="423.0" x2="226.8" y2="423.0" stroke="#262626" stroke-width="1.2"/>
<text transform="translate(222.20,426.70) scale(1.0,1.1)" text-anchor="end" font-size="9" fill="#666666" stroke="#666666" stroke-width="0.5">30</text>
<line x1="223.8" y1="407.5" x2="226.8" y2="407.5" stroke="#262626" stroke-width="1.2"/>
<text transform="translate(222.20,411.20) scale(1.0,1.1)" text-anchor="end" font-size="9" fill="#666666" stroke="#666666" stroke-width="0.5">40</text>
<line x1="223.8" y1="394.0" x2="226.8" y2="394.0" stroke="#262626" stroke-width="1.2"/>
<text transform="translate(222.20,397.70) scale(1.0,1.1)" text-anchor="end" font-size="9" fill="#666666" stroke="#666666" stroke-width="0.5">50</text>
<line x1="251.9" y1="529.9" x2="251.9" y2="532.9" stroke="#262626" stroke-width="1.2"/>
<text transform="translate(251.93,542.00) scale(1.0,1.1)" text-anchor="middle" font-size="9" fill="#5a5a5a" stroke="#5a5a5a" stroke-width="0.45">SNP</text>
<line x1="293.8" y1="529.9" x2="293.8" y2="532.9" stroke="#262626" stroke-width="1.2"/>
<text transform="translate(293.80,542.00) scale(1.0,1.1)" text-anchor="middle" font-size="9" fill="#5a5a5a" stroke="#5a5a5a" stroke-width="0.45">TH</text>
<line x1="335.7" y1="529.9" x2="335.7" y2="532.9" stroke="#262626" stroke-width="1.2"/>
<text transform="translate(335.68,542.00) scale(1.0,1.1)" text-anchor="middle" font-size="9" fill="#5a5a5a" stroke="#5a5a5a" stroke-width="0.45">UA</text></g>
<g><text transform="translate(368.64,383.60) scale(1.0,1.06)" font-weight="bold" font-size="14" fill="#000">I</text>
<text x="408.40" y="380.00" font-size="9.15" fill="#262626" stroke="#262626" stroke-width="0.35">Fungal plant pathogen</text>
<text transform="translate(380.2,458.80) rotate(-90)" text-anchor="middle" font-size="11.5" fill="#1c1c1c" stroke="#1c1c1c" stroke-width="0.35">Proportion (%)</text>
<line x1="433.5" y1="471.8" x2="433.5" y2="486.0" stroke="#3c8f79" stroke-width="1.0"/>
<line x1="433.5" y1="514.4" x2="433.5" y2="523.3" stroke="#3c8f79" stroke-width="1.0"/>
<rect x="417.8" y="486.0" width="31.4" height="28.4" fill="#1b9e7e" fill-opacity="0.4" stroke="#3c8f79" stroke-width="0.9" stroke-opacity="0.85"/>
<line x1="417.8" y1="507.9" x2="449.2" y2="507.9" stroke="#1b9e7e" stroke-width="2.2"/>
<circle cx="420.1" cy="432.0" r="1.85" fill="#1b9e7e" fill-opacity="0.92"/>
<circle cx="423.6" cy="473.0" r="1.85" fill="#1b9e7e" fill-opacity="0.92"/>
<circle cx="430.4" cy="471.4" r="1.85" fill="#1b9e7e" fill-opacity="0.92"/>
<circle cx="424.8" cy="476.5" r="1.85" fill="#1b9e7e" fill-opacity="0.92"/>
<circle cx="425.4" cy="478.9" r="1.85" fill="#1b9e7e" fill-opacity="0.92"/>
<circle cx="417.1" cy="481.8" r="1.85" fill="#1b9e7e" fill-opacity="0.92"/>
<circle cx="430.7" cy="482.4" r="1.85" fill="#1b9e7e" fill-opacity="0.92"/>
<circle cx="434.9" cy="480.7" r="1.85" fill="#1b9e7e" fill-opacity="0.92"/>
<circle cx="426.4" cy="488.7" r="1.85" fill="#1b9e7e" fill-opacity="0.92"/>
<circle cx="433.9" cy="493.7" r="1.85" fill="#1b9e7e" fill-opacity="0.92"/>
<circle cx="425.6" cy="496.7" r="1.85" fill="#1b9e7e" fill-opacity="0.92"/>
<circle cx="417.1" cy="500.2" r="1.85" fill="#1b9e7e" fill-opacity="0.92"/>
<circle cx="445.8" cy="497.8" r="1.85" fill="#1b9e7e" fill-opacity="0.92"/>
<circle cx="437.8" cy="501.8" r="1.85" fill="#1b9e7e" fill-opacity="0.92"/>
<circle cx="436.1" cy="504.4" r="1.85" fill="#1b9e7e" fill-opacity="0.92"/>
<circle cx="443.8" cy="507.9" r="1.85" fill="#1b9e7e" fill-opacity="0.92"/>
<circle cx="420.1" cy="511.5" r="1.85" fill="#1b9e7e" fill-opacity="0.92"/>
<circle cx="427.5" cy="510.9" r="1.85" fill="#1b9e7e" fill-opacity="0.92"/>
<circle cx="434.3" cy="511.5" r="1.85" fill="#1b9e7e" fill-opacity="0.92"/>
<circle cx="444.1" cy="510.3" r="1.85" fill="#1b9e7e" fill-opacity="0.92"/>
<circle cx="424.8" cy="515.0" r="1.85" fill="#1b9e7e" fill-opacity="0.92"/>
<circle cx="417.3" cy="518.0" r="1.85" fill="#1b9e7e" fill-opacity="0.92"/>
<circle cx="434.9" cy="517.4" r="1.85" fill="#1b9e7e" fill-opacity="0.92"/>
<circle cx="448.2" cy="518.0" r="1.85" fill="#1b9e7e" fill-opacity="0.92"/>
<circle cx="418.5" cy="522.7" r="1.85" fill="#1b9e7e" fill-opacity="0.92"/>
<circle cx="436.3" cy="520.7" r="1.85" fill="#1b9e7e" fill-opacity="0.92"/>
<circle cx="449.1" cy="508.5" r="1.85" fill="#1b9e7e" fill-opacity="0.92"/>
<circle cx="447.2" cy="504.8" r="1.85" fill="#1b9e7e" fill-opacity="0.92"/>
<circle cx="424.2" cy="514.2" r="1.85" fill="#1b9e7e" fill-opacity="0.92"/>
<circle cx="433.7" cy="514.8" r="1.85" fill="#1b9e7e" fill-opacity="0.92"/>
<circle cx="443.2" cy="505.5" r="1.85" fill="#1b9e7e" fill-opacity="0.92"/>
<circle cx="427.6" cy="508.0" r="1.85" fill="#1b9e7e" fill-opacity="0.92"/>
<circle cx="419.5" cy="519.8" r="1.85" fill="#1b9e7e" fill-opacity="0.92"/>
<circle cx="442.3" cy="516.3" r="1.85" fill="#1b9e7e" fill-opacity="0.92"/>
<circle cx="418.2" cy="518.9" r="1.85" fill="#1b9e7e" fill-opacity="0.92"/>
<text x="433.52" y="466.85" text-anchor="middle" font-size="12" fill="#1a1a1a" stroke="#1a1a1a" stroke-width="0.35">a</text>
<line x1="475.4" y1="508.2" x2="475.4" y2="513.2" stroke="#4f80a8" stroke-width="1.0"/>
<line x1="475.4" y1="520.2" x2="475.4" y2="524.0" stroke="#4f80a8" stroke-width="1.0"/>
<rect x="459.7" y="513.2" width="31.4" height="7.0" fill="#1f72b8" fill-opacity="0.4" stroke="#4f80a8" stroke-width="0.9" stroke-opacity="0.85"/>
<line x1="459.7" y1="517.8" x2="491.1" y2="517.8" stroke="#1f72b8" stroke-width="2.2"/>
<circle cx="483.6" cy="437.3" r="1.85" fill="#1f72b8" fill-opacity="0.92"/>
<circle cx="482.9" cy="503.6" r="1.85" fill="#1f72b8" fill-opacity="0.92"/>
<circle cx="458.5" cy="509.3" r="1.85" fill="#1f72b8" fill-opacity="0.92"/>
<circle cx="468.2" cy="507.7" r="1.85" fill="#1f72b8" fill-opacity="0.92"/>
<circle cx="472.7" cy="509.1" r="1.85" fill="#1f72b8" fill-opacity="0.92"/>
<circle cx="492.0" cy="508.0" r="1.85" fill="#1f72b8" fill-opacity="0.92"/>
<circle cx="464.7" cy="524.1" r="1.85" fill="#1f72b8" fill-opacity="0.92"/>
<circle cx="475.2" cy="522.3" r="1.85" fill="#1f72b8" fill-opacity="0.92"/>
<circle cx="482.8" cy="516.7" r="1.85" fill="#1f72b8" fill-opacity="0.92"/>
<circle cx="482.7" cy="516.6" r="1.85" fill="#1f72b8" fill-opacity="0.92"/>
<circle cx="466.2" cy="513.8" r="1.85" fill="#1f72b8" fill-opacity="0.92"/>
<circle cx="466.4" cy="513.3" r="1.85" fill="#1f72b8" fill-opacity="0.92"/>
<circle cx="469.7" cy="519.0" r="1.85" fill="#1f72b8" fill-opacity="0.92"/>
<circle cx="481.2" cy="519.8" r="1.85" fill="#1f72b8" fill-opacity="0.92"/>
<circle cx="481.8" cy="515.1" r="1.85" fill="#1f72b8" fill-opacity="0.92"/>
<circle cx="476.7" cy="516.5" r="1.85" fill="#1f72b8" fill-opacity="0.92"/>
<circle cx="484.2" cy="517.2" r="1.85" fill="#1f72b8" fill-opacity="0.92"/>
<circle cx="467.5" cy="518.1" r="1.85" fill="#1f72b8" fill-opacity="0.92"/>
<circle cx="489.9" cy="514.7" r="1.85" fill="#1f72b8" fill-opacity="0.92"/>
<circle cx="487.2" cy="513.1" r="1.85" fill="#1f72b8" fill-opacity="0.92"/>
<circle cx="467.3" cy="514.9" r="1.85" fill="#1f72b8" fill-opacity="0.92"/>
<circle cx="482.8" cy="520.6" r="1.85" fill="#1f72b8" fill-opacity="0.92"/>
<circle cx="482.9" cy="515.6" r="1.85" fill="#1f72b8" fill-opacity="0.92"/>
<circle cx="487.2" cy="515.6" r="1.85" fill="#1f72b8" fill-opacity="0.92"/>
<circle cx="466.7" cy="520.3" r="1.85" fill="#1f72b8" fill-opacity="0.92"/>
<circle cx="479.2" cy="518.5" r="1.85" fill="#1f72b8" fill-opacity="0.92"/>
<circle cx="480.3" cy="520.8" r="1.85" fill="#1f72b8" fill-opacity="0.92"/>
<circle cx="474.0" cy="519.7" r="1.85" fill="#1f72b8" fill-opacity="0.92"/>
<circle cx="481.3" cy="519.9" r="1.85" fill="#1f72b8" fill-opacity="0.92"/>
<circle cx="473.0" cy="518.8" r="1.85" fill="#1f72b8" fill-opacity="0.92"/>
<circle cx="477.3" cy="515.5" r="1.85" fill="#1f72b8" fill-opacity="0.92"/>
<circle cx="465.8" cy="518.0" r="1.85" fill="#1f72b8" fill-opacity="0.92"/>
<circle cx="461.5" cy="520.3" r="1.85" fill="#1f72b8" fill-opacity="0.92"/>
<circle cx="463.6" cy="513.2" r="1.85" fill="#1f72b8" fill-opacity="0.92"/>
<circle cx="462.4" cy="520.4" r="1.85" fill="#1f72b8" fill-opacity="0.92"/>
<circle cx="470.0" cy="514.1" r="1.85" fill="#1f72b8" fill-opacity="0.92"/>
<circle cx="459.9" cy="513.3" r="1.85" fill="#1f72b8" fill-opacity="0.92"/>
<circle cx="481.2" cy="518.1" r="1.85" fill="#1f72b8" fill-opacity="0.92"/>
<circle cx="481.3" cy="518.9" r="1.85" fill="#1f72b8" fill-opacity="0.92"/>
<circle cx="461.1" cy="517.7" r="1.85" fill="#1f72b8" fill-opacity="0.92"/>
<circle cx="470.6" cy="519.5" r="1.85" fill="#1f72b8" fill-opacity="0.92"/>
<circle cx="485.2" cy="520.1" r="1.85" fill="#1f72b8" fill-opacity="0.92"/>
<circle cx="461.1" cy="519.9" r="1.85" fill="#1f72b8" fill-opacity="0.92"/>
<circle cx="488.3" cy="520.6" r="1.85" fill="#1f72b8" fill-opacity="0.92"/>
<circle cx="462.4" cy="514.6" r="1.85" fill="#1f72b8" fill-opacity="0.92"/>
<circle cx="462.6" cy="513.3" r="1.85" fill="#1f72b8" fill-opacity="0.92"/>
<circle cx="486.1" cy="519.5" r="1.85" fill="#1f72b8" fill-opacity="0.92"/>
<circle cx="479.3" cy="519.6" r="1.85" fill="#1f72b8" fill-opacity="0.92"/>
<circle cx="479.7" cy="521.7" r="1.85" fill="#1f72b8" fill-opacity="0.92"/>
<circle cx="464.8" cy="521.2" r="1.85" fill="#1f72b8" fill-opacity="0.92"/>
<circle cx="483.2" cy="521.5" r="1.85" fill="#1f72b8" fill-opacity="0.92"/>
<circle cx="470.9" cy="522.1" r="1.85" fill="#1f72b8" fill-opacity="0.92"/>
<circle cx="462.6" cy="521.6" r="1.85" fill="#1f72b8" fill-opacity="0.92"/>
<circle cx="469.9" cy="522.8" r="1.85" fill="#1f72b8" fill-opacity="0.92"/>
<text x="475.40" y="503.05" text-anchor="middle" font-size="12" fill="#1a1a1a" stroke="#1a1a1a" stroke-width="0.35">b</text>
<line x1="517.3" y1="492.0" x2="517.3" y2="508.0" stroke="#d27a82" stroke-width="1.0"/>
<line x1="517.3" y1="520.4" x2="517.3" y2="524.0" stroke="#d27a82" stroke-width="1.0"/>
<rect x="501.6" y="508.0" width="31.4" height="12.4" fill="#e44c44" fill-opacity="0.4" stroke="#d27a82" stroke-width="0.9" stroke-opacity="0.85"/>
<line x1="501.6" y1="517.1" x2="533.0" y2="517.1" stroke="#e44c44" stroke-width="2.2"/>
<circle cx="514.7" cy="394.3" r="1.85" fill="#e44c44" fill-opacity="0.92"/>
<circle cx="527.6" cy="492.0" r="1.85" fill="#e44c44" fill-opacity="0.92"/>
<circle cx="506.8" cy="495.2" r="1.85" fill="#e44c44" fill-opacity="0.92"/>
<circle cx="522.9" cy="496.3" r="1.85" fill="#e44c44" fill-opacity="0.92"/>
<circle cx="509.8" cy="503.2" r="1.85" fill="#e44c44" fill-opacity="0.92"/>
<circle cx="507.0" cy="504.3" r="1.85" fill="#e44c44" fill-opacity="0.92"/>
<circle cx="507.6" cy="507.8" r="1.85" fill="#e44c44" fill-opacity="0.92"/>
<circle cx="518.5" cy="507.3" r="1.85" fill="#e44c44" fill-opacity="0.92"/>
<circle cx="520.7" cy="507.8" r="1.85" fill="#e44c44" fill-opacity="0.92"/>
<circle cx="527.6" cy="506.7" r="1.85" fill="#e44c44" fill-opacity="0.92"/>
<circle cx="504.3" cy="513.3" r="1.85" fill="#e44c44" fill-opacity="0.92"/>
<circle cx="524.0" cy="511.7" r="1.85" fill="#e44c44" fill-opacity="0.92"/>
<circle cx="525.4" cy="513.3" r="1.85" fill="#e44c44" fill-opacity="0.92"/>
<circle cx="527.8" cy="516.6" r="1.85" fill="#e44c44" fill-opacity="0.92"/>
<circle cx="533.3" cy="517.7" r="1.85" fill="#e44c44" fill-opacity="0.92"/>
<circle cx="528.9" cy="521.0" r="1.85" fill="#e44c44" fill-opacity="0.92"/>
<circle cx="505.9" cy="522.0" r="1.85" fill="#e44c44" fill-opacity="0.92"/>
<circle cx="512.0" cy="523.1" r="1.85" fill="#e44c44" fill-opacity="0.92"/>
<circle cx="513.4" cy="517.2" r="1.85" fill="#e44c44" fill-opacity="0.92"/>
<circle cx="531.9" cy="519.0" r="1.85" fill="#e44c44" fill-opacity="0.92"/>
<circle cx="528.4" cy="520.2" r="1.85" fill="#e44c44" fill-opacity="0.92"/>
<circle cx="503.0" cy="518.1" r="1.85" fill="#e44c44" fill-opacity="0.92"/>
<circle cx="515.5" cy="521.7" r="1.85" fill="#e44c44" fill-opacity="0.92"/>
<circle cx="512.8" cy="521.0" r="1.85" fill="#e44c44" fill-opacity="0.92"/>
<circle cx="518.7" cy="516.2" r="1.85" fill="#e44c44" fill-opacity="0.92"/>
<circle cx="528.7" cy="514.9" r="1.85" fill="#e44c44" fill-opacity="0.92"/>
<circle cx="527.4" cy="515.7" r="1.85" fill="#e44c44" fill-opacity="0.92"/>
<circle cx="502.0" cy="516.0" r="1.85" fill="#e44c44" fill-opacity="0.92"/>
<circle cx="525.6" cy="523.8" r="1.85" fill="#e44c44" fill-opacity="0.92"/>
<circle cx="502.1" cy="518.9" r="1.85" fill="#e44c44" fill-opacity="0.92"/>
<circle cx="517.2" cy="522.0" r="1.85" fill="#e44c44" fill-opacity="0.92"/>
<circle cx="507.7" cy="518.9" r="1.85" fill="#e44c44" fill-opacity="0.92"/>
<circle cx="512.8" cy="522.3" r="1.85" fill="#e44c44" fill-opacity="0.92"/>
<circle cx="510.1" cy="523.4" r="1.85" fill="#e44c44" fill-opacity="0.92"/>
<circle cx="510.8" cy="516.1" r="1.85" fill="#e44c44" fill-opacity="0.92"/>
<circle cx="523.7" cy="519.0" r="1.85" fill="#e44c44" fill-opacity="0.92"/>
<circle cx="505.4" cy="520.4" r="1.85" fill="#e44c44" fill-opacity="0.92"/>
<circle cx="504.5" cy="521.9" r="1.85" fill="#e44c44" fill-opacity="0.92"/>
<circle cx="523.6" cy="521.9" r="1.85" fill="#e44c44" fill-opacity="0.92"/>
<circle cx="521.5" cy="517.6" r="1.85" fill="#e44c44" fill-opacity="0.92"/>
<circle cx="514.4" cy="517.9" r="1.85" fill="#e44c44" fill-opacity="0.92"/>
<circle cx="529.6" cy="514.9" r="1.85" fill="#e44c44" fill-opacity="0.92"/>
<circle cx="529.5" cy="514.3" r="1.85" fill="#e44c44" fill-opacity="0.92"/>
<circle cx="508.4" cy="516.6" r="1.85" fill="#e44c44" fill-opacity="0.92"/>
<circle cx="529.9" cy="519.0" r="1.85" fill="#e44c44" fill-opacity="0.92"/>
<circle cx="513.8" cy="522.8" r="1.85" fill="#e44c44" fill-opacity="0.92"/>
<circle cx="509.2" cy="518.6" r="1.85" fill="#e44c44" fill-opacity="0.92"/>
<circle cx="518.5" cy="521.5" r="1.85" fill="#e44c44" fill-opacity="0.92"/>
<circle cx="531.5" cy="518.8" r="1.85" fill="#e44c44" fill-opacity="0.92"/>
<circle cx="527.5" cy="515.9" r="1.85" fill="#e44c44" fill-opacity="0.92"/>
<circle cx="525.6" cy="520.6" r="1.85" fill="#e44c44" fill-opacity="0.92"/>
<circle cx="530.6" cy="519.7" r="1.85" fill="#e44c44" fill-opacity="0.92"/>
<circle cx="525.7" cy="516.9" r="1.85" fill="#e44c44" fill-opacity="0.92"/>
<circle cx="531.7" cy="518.2" r="1.85" fill="#e44c44" fill-opacity="0.92"/>
<circle cx="525.3" cy="517.2" r="1.85" fill="#e44c44" fill-opacity="0.92"/>
<circle cx="532.9" cy="515.1" r="1.85" fill="#e44c44" fill-opacity="0.92"/>
<text x="517.27" y="487.45" text-anchor="middle" font-size="12" fill="#1a1a1a" stroke="#1a1a1a" stroke-width="0.35">b</text>
<path d="M408.4,387.5 V529.9 H542.4" fill="none" stroke="#262626" stroke-width="1.7"/>
<line x1="405.4" y1="524.1" x2="408.4" y2="524.1" stroke="#262626" stroke-width="1.2"/>
<text transform="translate(403.80,527.80) scale(1.0,1.1)" text-anchor="end" font-size="9" fill="#666666" stroke="#666666" stroke-width="0.5">0</text>
<line x1="405.4" y1="483.9" x2="408.4" y2="483.9" stroke="#262626" stroke-width="1.2"/>
<text transform="translate(403.80,487.60) scale(1.0,1.1)" text-anchor="end" font-size="9" fill="#666666" stroke="#666666" stroke-width="0.5">10</text>
<line x1="405.4" y1="443.8" x2="408.4" y2="443.8" stroke="#262626" stroke-width="1.2"/>
<text transform="translate(403.80,447.50) scale(1.0,1.1)" text-anchor="end" font-size="9" fill="#666666" stroke="#666666" stroke-width="0.5">20</text>
<line x1="405.4" y1="403.6" x2="408.4" y2="403.6" stroke="#262626" stroke-width="1.2"/>
<text transform="translate(403.80,407.30) scale(1.0,1.1)" text-anchor="end" font-size="9" fill="#666666" stroke="#666666" stroke-width="0.5">30</text>
<line x1="433.5" y1="529.9" x2="433.5" y2="532.9" stroke="#262626" stroke-width="1.2"/>
<text transform="translate(433.52,542.00) scale(1.0,1.1)" text-anchor="middle" font-size="9" fill="#5a5a5a" stroke="#5a5a5a" stroke-width="0.45">SNP</text>
<line x1="475.4" y1="529.9" x2="475.4" y2="532.9" stroke="#262626" stroke-width="1.2"/>
<text transform="translate(475.40,542.00) scale(1.0,1.1)" text-anchor="middle" font-size="9" fill="#5a5a5a" stroke="#5a5a5a" stroke-width="0.45">TH</text>
<line x1="517.3" y1="529.9" x2="517.3" y2="532.9" stroke="#262626" stroke-width="1.2"/>
<text transform="translate(517.27,542.00) scale(1.0,1.1)" text-anchor="middle" font-size="9" fill="#5a5a5a" stroke="#5a5a5a" stroke-width="0.45">UA</text></g>
</svg></body></html>
